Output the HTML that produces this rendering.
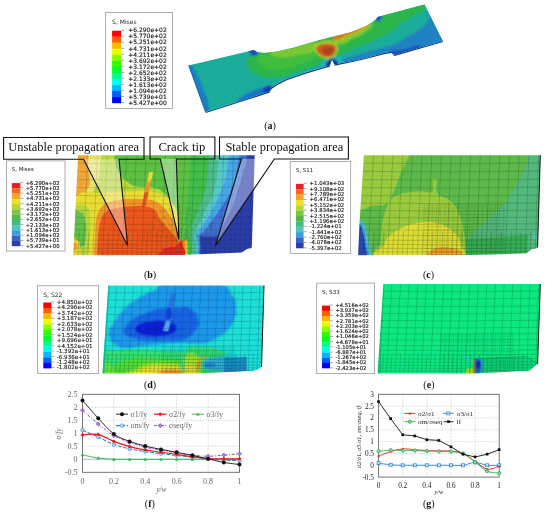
<!DOCTYPE html>
<html><head><meta charset="utf-8"><title>Figure</title>
<style>html,body{margin:0;padding:0;background:#fff}svg{display:block}</style></head><body>
<svg width="550" height="513" viewBox="0 0 550 513">
<rect width="550" height="513" fill="#fff"/>
<!-- panel a -->
<rect x="105.7" y="12.5" width="66.9" height="96.0" fill="#fff" stroke="#9a9a9a" stroke-width="0.8"/>
<text x="112.1" y="23.9" font-family="DejaVu Sans, Liberation Sans, sans-serif" font-size="6.00" fill="#222">S, Mises</text>
<rect x="112.1" y="30.70" width="9.0" height="6.13" fill="#ff0000"/>
<rect x="112.1" y="36.73" width="9.0" height="6.13" fill="#ff5d00"/>
<rect x="112.1" y="42.77" width="9.0" height="6.13" fill="#ffb900"/>
<rect x="112.1" y="48.80" width="9.0" height="6.13" fill="#e8ff00"/>
<rect x="112.1" y="54.83" width="9.0" height="6.13" fill="#8bff00"/>
<rect x="112.1" y="60.87" width="9.0" height="6.13" fill="#2eff00"/>
<rect x="112.1" y="66.90" width="9.0" height="6.13" fill="#00ff2e"/>
<rect x="112.1" y="72.93" width="9.0" height="6.13" fill="#00ff8b"/>
<rect x="112.1" y="78.97" width="9.0" height="6.13" fill="#00ffe8"/>
<rect x="112.1" y="85.00" width="9.0" height="6.13" fill="#00b9ff"/>
<rect x="112.1" y="91.03" width="9.0" height="6.13" fill="#005dff"/>
<rect x="112.1" y="97.07" width="9.0" height="6.13" fill="#0000ff"/>
<line x1="121.1" y1="30.30" x2="124.1" y2="30.30" stroke="#555" stroke-width="0.5"/>
<text x="128.2" y="32.46" font-family="DejaVu Sans, Liberation Sans, sans-serif" font-size="6.00" fill="#111" stroke="#111" stroke-width="0.12">+6.290e+02</text>
<line x1="121.1" y1="36.32" x2="124.1" y2="36.32" stroke="#555" stroke-width="0.5"/>
<text x="128.2" y="38.48" font-family="DejaVu Sans, Liberation Sans, sans-serif" font-size="6.00" fill="#111" stroke="#111" stroke-width="0.12">+5.770e+02</text>
<line x1="121.1" y1="42.33" x2="124.1" y2="42.33" stroke="#555" stroke-width="0.5"/>
<text x="128.2" y="44.49" font-family="DejaVu Sans, Liberation Sans, sans-serif" font-size="6.00" fill="#111" stroke="#111" stroke-width="0.12">+5.251e+02</text>
<line x1="121.1" y1="48.35" x2="124.1" y2="48.35" stroke="#555" stroke-width="0.5"/>
<text x="128.2" y="50.51" font-family="DejaVu Sans, Liberation Sans, sans-serif" font-size="6.00" fill="#111" stroke="#111" stroke-width="0.12">+4.731e+02</text>
<line x1="121.1" y1="54.37" x2="124.1" y2="54.37" stroke="#555" stroke-width="0.5"/>
<text x="128.2" y="56.53" font-family="DejaVu Sans, Liberation Sans, sans-serif" font-size="6.00" fill="#111" stroke="#111" stroke-width="0.12">+4.211e+02</text>
<line x1="121.1" y1="60.38" x2="124.1" y2="60.38" stroke="#555" stroke-width="0.5"/>
<text x="128.2" y="62.54" font-family="DejaVu Sans, Liberation Sans, sans-serif" font-size="6.00" fill="#111" stroke="#111" stroke-width="0.12">+3.692e+02</text>
<line x1="121.1" y1="66.40" x2="124.1" y2="66.40" stroke="#555" stroke-width="0.5"/>
<text x="128.2" y="68.56" font-family="DejaVu Sans, Liberation Sans, sans-serif" font-size="6.00" fill="#111" stroke="#111" stroke-width="0.12">+3.172e+02</text>
<line x1="121.1" y1="72.42" x2="124.1" y2="72.42" stroke="#555" stroke-width="0.5"/>
<text x="128.2" y="74.58" font-family="DejaVu Sans, Liberation Sans, sans-serif" font-size="6.00" fill="#111" stroke="#111" stroke-width="0.12">+2.652e+02</text>
<line x1="121.1" y1="78.43" x2="124.1" y2="78.43" stroke="#555" stroke-width="0.5"/>
<text x="128.2" y="80.59" font-family="DejaVu Sans, Liberation Sans, sans-serif" font-size="6.00" fill="#111" stroke="#111" stroke-width="0.12">+2.133e+02</text>
<line x1="121.1" y1="84.45" x2="124.1" y2="84.45" stroke="#555" stroke-width="0.5"/>
<text x="128.2" y="86.61" font-family="DejaVu Sans, Liberation Sans, sans-serif" font-size="6.00" fill="#111" stroke="#111" stroke-width="0.12">+1.613e+02</text>
<line x1="121.1" y1="90.47" x2="124.1" y2="90.47" stroke="#555" stroke-width="0.5"/>
<text x="128.2" y="92.63" font-family="DejaVu Sans, Liberation Sans, sans-serif" font-size="6.00" fill="#111" stroke="#111" stroke-width="0.12">+1.094e+02</text>
<line x1="121.1" y1="96.48" x2="124.1" y2="96.48" stroke="#555" stroke-width="0.5"/>
<text x="128.2" y="98.64" font-family="DejaVu Sans, Liberation Sans, sans-serif" font-size="6.00" fill="#111" stroke="#111" stroke-width="0.12">+5.739e+01</text>
<line x1="121.1" y1="102.50" x2="124.1" y2="102.50" stroke="#555" stroke-width="0.5"/>
<text x="128.2" y="104.66" font-family="DejaVu Sans, Liberation Sans, sans-serif" font-size="6.00" fill="#111" stroke="#111" stroke-width="0.12">+5.427e+00</text>
<defs><clipPath id="clipA"><polygon points="188.6,65.4 253.8,49.9 257.3,52.2 264.5,53.0 277.3,51.6 295.5,47.3 313.6,41.8 331.8,37.0 350.0,32.4 366.2,26.0 373.5,21.6 377.1,18.0 377.6,17.0 424.5,4.4 442.7,40.9 394.2,54.8 391.0,51.8 383.6,53.1 369.0,56.9 354.5,60.4 340.0,63.3 334.6,64.6 331.6,58.6 329.2,65.6 322.7,67.3 304.5,72.7 286.4,79.1 277.3,83.6 271.5,87.6 268.8,91.6 205.4,111.9"/></clipPath>
<filter id="blA" x="-20%" y="-20%" width="140%" height="140%"><feGaussianBlur stdDeviation="1.0"/></filter>
<pattern id="meshA" width="2.4" height="2.4" patternUnits="userSpaceOnUse" patternTransform="rotate(-15)"><path d="M0 0H2.4M0 0V2.4M0 2.4L2.4 0" stroke="#003040" stroke-width="0.35" fill="none"/></pattern>
</defs>
<polygon points="442.7,40.9 443.1,42.1 394.6,56.0 391.4,53.0 384.0,54.3 369.4,58.1 354.9,61.6 340.4,64.5 335.0,65.8 332.0,59.8 329.6,66.8 323.1,68.5 304.9,73.9 286.8,80.3 277.7,84.8 271.9,88.8 269.2,92.8 205.8,113.1 205.4,111.9 205.4,111.9 268.8,91.6 271.5,87.6 277.3,83.6 286.4,79.1 304.5,72.7 322.7,67.3 329.2,65.6 331.6,58.6 334.6,64.6 340.0,63.3 354.5,60.4 369.0,56.9 383.6,53.1 391.0,51.8 394.2,54.8 442.7,40.9" fill="#16368c"/>
<g clip-path="url(#clipA)">
<rect x="180" y="0" width="270" height="120" fill="#1cb6a2"/>
<g filter="url(#blA)">
<path d="M247.0 62.0 C247.8 58.5 249.1 57.7 252.0 54.0 C254.9 50.3 245.2 51.7 258.0 48.0 C270.8 44.3 275.5 45.9 300.0 40.0 C324.5 34.1 328.7 33.5 350.0 26.0 C371.3 18.5 366.7 17.6 380.0 12.0 C393.3 6.4 387.2 8.7 400.0 5.0 C412.8 1.3 421.1 -2.4 428.0 -2.0 C434.9 -1.6 427.9 2.9 426.0 6.5 C424.1 10.1 425.0 8.7 420.9 11.6 C416.8 14.5 416.1 14.4 410.7 17.5 C405.3 20.6 404.8 20.2 400.5 23.3 C396.2 26.4 399.7 25.6 394.7 29.1 C389.7 32.6 388.2 33.0 381.6 36.4 C375.0 39.8 377.2 38.8 370.0 42.0 C362.8 45.2 362.5 45.2 354.5 48.5 C346.5 51.8 344.9 52.0 340.0 54.5 C335.1 57.0 339.5 56.5 336.0 58.0 C332.5 59.5 331.8 58.3 327.0 60.0 C322.2 61.7 323.9 62.1 318.0 64.5 C312.1 66.9 311.1 66.9 305.0 69.0 C298.9 71.1 300.3 70.6 295.0 72.5 C289.7 74.4 291.9 74.7 285.0 76.0 C278.1 77.3 277.0 78.3 269.0 77.5 C261.0 76.7 260.3 75.8 255.0 73.0 C249.7 70.2 251.1 69.9 249.0 67.0 C246.9 64.1 246.2 65.5 247.0 62.0Z" fill="#2fc04c" />
<path d="M258.0 56.0 C260.7 52.5 262.1 54.9 272.0 53.0 C281.9 51.1 283.5 51.4 295.0 49.0 C306.5 46.6 308.9 43.2 315.0 44.0 C321.1 44.8 318.8 47.7 318.0 52.0 C317.2 56.3 317.9 56.3 312.0 60.0 C306.1 63.7 305.6 63.3 296.0 66.0 C286.4 68.7 285.1 70.0 276.0 70.0 C266.9 70.0 266.8 69.7 262.0 66.0 C257.2 62.3 255.3 59.5 258.0 56.0Z" fill="#44c83c" />
<path d="M272.0 52.0 C276.0 49.3 283.8 49.8 295.0 47.0 C306.2 44.2 307.9 41.8 314.0 41.5 C320.1 41.2 318.5 43.2 318.0 46.0 C317.5 48.8 317.3 49.6 312.0 52.0 C306.7 54.4 306.5 53.7 298.0 55.0 C289.5 56.3 286.9 57.8 280.0 57.0 C273.1 56.2 268.0 54.7 272.0 52.0Z" fill="#84d430" />
<path d="M334.0 42.0 C332.9 39.7 333.7 38.2 338.0 35.5 C342.3 32.8 343.6 34.1 350.0 32.0 C356.4 29.9 356.7 29.8 362.0 27.5 C367.3 25.2 367.3 23.9 370.0 23.5 C372.7 23.1 373.6 23.5 372.0 26.0 C370.4 28.5 369.3 29.5 364.0 33.0 C358.7 36.5 357.9 36.1 352.0 39.0 C346.1 41.9 346.8 43.2 342.0 44.0 C337.2 44.8 335.1 44.3 334.0 42.0Z" fill="#8ed22c" />
<path d="M334.0 37.5 C336.7 35.4 338.6 35.4 345.0 33.0 C351.4 30.6 352.4 30.6 358.0 28.5 C363.6 26.4 364.4 24.9 366.0 25.0 C367.6 25.1 367.7 26.5 364.0 29.0 C360.3 31.5 358.4 31.8 352.0 34.5 C345.6 37.2 344.5 37.3 340.0 39.0 C335.5 40.7 336.6 41.4 335.0 41.0 C333.4 40.6 331.3 39.6 334.0 37.5Z" fill="#ded020" />
<path d="M334.0 37.2 C336.7 35.1 339.1 34.9 346.0 32.0 C352.9 29.1 354.1 28.9 360.0 26.4 C365.9 23.9 366.4 22.6 368.0 22.5 C369.6 22.4 368.7 23.9 366.0 26.0 C363.3 28.1 363.1 28.0 358.0 30.5 C352.9 33.0 352.9 32.7 347.0 35.2 C341.1 37.7 339.5 39.5 336.0 40.0 C332.5 40.5 331.3 39.3 334.0 37.2Z" fill="#f07418" />
<path d="M336.0 61.0 C336.0 58.8 335.1 60.9 340.0 59.6 C344.9 58.3 346.8 58.1 354.5 56.0 C362.2 53.9 361.0 53.9 369.0 51.6 C377.0 49.3 376.5 50.0 384.5 47.5 C392.5 45.0 392.8 45.2 399.0 42.2 C405.2 39.2 402.7 39.5 407.8 36.4 C412.9 33.3 413.0 34.0 418.0 30.5 C423.0 27.0 423.6 27.2 426.7 23.3 C429.8 19.4 429.4 19.7 429.6 16.0 C429.8 12.3 427.4 12.7 427.5 9.5 C427.6 6.3 424.0 -4.1 430.0 4.0 C436.0 12.1 452.7 27.2 450.0 40.0 C447.3 52.8 434.9 46.1 420.0 52.0 C405.1 57.9 415.3 57.7 394.0 62.0 C372.7 66.3 355.5 68.3 340.0 68.0 C324.5 67.7 336.0 63.2 336.0 61.0Z" fill="#2088cc" />
<path d="M391.0 51.5 C393.7 49.3 392.3 51.5 398.0 50.5 C403.7 49.5 400.7 50.0 408.0 48.5 C415.3 47.0 415.7 44.8 420.0 46.0 C424.3 47.2 427.7 48.0 421.0 52.0 C414.3 56.0 410.3 56.3 400.0 58.0 C389.7 59.7 393.0 59.2 390.0 57.0 C387.0 54.8 388.3 53.7 391.0 51.5Z" fill="#1c50c8" />
<path d="M375.0 15.0 C376.3 12.8 379.0 13.2 381.0 14.5 C383.0 15.8 382.3 16.8 381.0 19.0 C379.7 21.2 379.0 22.3 377.0 21.0 C375.0 19.7 373.7 17.2 375.0 15.0Z" fill="#1c50c8" />
<path d="M187.0 63.0 C188.3 60.3 188.2 61.0 192.0 66.0 C195.8 71.0 194.3 69.3 198.5 78.0 C202.7 86.7 201.2 83.3 204.5 92.0 C207.8 100.7 207.3 97.3 208.5 104.0 C209.7 110.7 209.8 108.7 208.0 112.0 C206.2 115.3 207.0 119.3 203.0 114.0 C199.0 108.7 201.0 109.3 196.0 96.0 C191.0 82.7 191.0 85.0 188.0 74.0 C185.0 63.0 185.7 65.7 187.0 63.0Z" fill="#1c84d2" />
<path d="M236.0 103.5 C237.3 100.5 236.7 101.0 242.0 97.0 C247.3 93.0 245.3 94.5 252.0 91.5 C258.7 88.5 256.0 89.7 262.0 88.0 C268.0 86.3 266.3 85.8 270.0 86.5 C273.7 87.2 273.7 87.2 273.0 90.0 C272.3 92.8 275.7 91.3 268.0 95.0 C260.3 98.7 260.0 97.3 250.0 101.0 C240.0 104.7 242.7 105.2 238.0 106.0 C233.3 106.8 234.7 106.5 236.0 103.5Z" fill="#1c78d0" />
<path d="M263.0 89.5 C263.7 87.3 265.0 87.3 268.0 86.5 C271.0 85.7 271.0 85.2 272.0 87.0 C273.0 88.8 273.0 90.0 271.0 92.0 C269.0 94.0 268.7 93.8 266.0 93.0 C263.3 92.2 262.3 91.7 263.0 89.5Z" fill="#1838c0" />
<path d="M250.0 49.0 C252.0 47.3 253.3 46.7 256.0 48.0 C258.7 49.3 258.7 50.3 258.0 53.0 C257.3 55.7 256.7 56.0 254.0 56.0 C251.3 56.0 251.3 55.3 250.0 53.0 C248.7 50.7 248.0 50.7 250.0 49.0Z" fill="#1c50c8" />
<path d="M322.0 64.0 C322.7 61.0 323.3 61.7 326.0 59.0 C328.7 56.3 327.3 57.0 330.0 56.0 C332.7 55.0 331.0 55.3 334.0 56.0 C337.0 56.7 336.0 56.0 339.0 58.0 C342.0 60.0 343.3 59.3 343.0 62.0 C342.7 64.7 342.3 64.0 338.0 66.0 C333.7 68.0 334.7 67.3 330.0 68.0 C325.3 68.7 326.7 69.3 324.0 68.0 C321.3 66.7 321.3 67.0 322.0 64.0Z" fill="#20c0c0" />
<path d="M325.5 66.0 C325.3 63.3 326.5 62.8 328.5 60.0 C330.5 57.2 329.3 57.7 331.5 57.5 C333.7 57.3 332.7 57.3 335.0 59.5 C337.3 61.7 338.8 61.5 338.5 64.0 C338.2 66.5 337.2 65.7 334.0 67.0 C330.8 68.3 331.8 68.3 329.0 68.0 C326.2 67.7 325.7 68.7 325.5 66.0Z" fill="#1840c8" />
<path d="M327.0 66.0 C326.5 64.5 328.2 63.5 329.5 61.5 C330.8 59.5 330.5 58.5 331.0 60.0 C331.5 61.5 332.3 64.0 331.0 66.0 C329.7 68.0 327.5 67.5 327.0 66.0Z" fill="#1020a0" />
<path d="M333.0 60.5 C333.8 59.7 336.2 61.7 336.5 63.5 C336.8 65.3 335.2 67.0 334.0 66.0 C332.8 65.0 332.2 61.3 333.0 60.5Z" fill="#1020a0" />
<path d="M314.5 46.5 C315.3 42.7 315.8 44.4 320.0 42.5 C324.2 40.6 322.3 41.0 327.0 40.8 C331.7 40.6 330.5 40.3 334.0 42.0 C337.5 43.7 336.7 42.3 337.5 46.0 C338.3 49.7 338.7 48.8 336.5 53.0 C334.3 57.2 335.2 56.8 331.0 58.5 C326.8 60.2 328.5 59.5 324.0 58.0 C319.5 56.5 320.7 57.8 317.5 54.0 C314.3 50.2 313.7 50.3 314.5 46.5Z" fill="#b4d82c" />
<path d="M316.6 47.2 C317.9 45.1 322.3 44.0 326.0 43.8 C329.7 43.6 333.6 44.3 335.3 46.2 C337.0 48.1 336.0 51.3 334.6 53.5 C333.2 55.7 331.5 57.0 328.5 57.2 C325.5 57.4 322.1 56.3 319.7 54.3 C317.3 52.3 315.3 49.3 316.6 47.2Z" fill="#dc5a1c" />
<path d="M323.0 49.0 C324.7 47.0 326.7 47.0 330.0 47.5 C333.3 48.0 333.0 48.2 333.0 50.5 C333.0 52.8 332.7 53.5 330.0 54.5 C327.3 55.5 327.3 55.3 325.0 53.5 C322.7 51.7 321.3 51.0 323.0 49.0Z" fill="#b8441c" />
</g>
<rect x="180" y="0" width="270" height="120" fill="url(#meshA)" opacity="0.28"/>
</g>
<polyline points="188.6,65.4 205.4,111.9" fill="none" stroke="#0a2a50" stroke-width="0.6" opacity="0.7"/>
<text x="270.1" y="129.1" font-family="Liberation Serif, serif" font-size="10" text-anchor="middle" fill="#111">(<tspan font-weight="bold">a</tspan>)</text>
<!-- panel b -->
<rect x="6.4" y="160.9" width="58.6" height="90.1" fill="#fff" stroke="#9a9a9a" stroke-width="0.8"/>
<text x="11.8" y="171.1" font-family="DejaVu Sans, Liberation Sans, sans-serif" font-size="5.40" fill="#222">S, Mises</text>
<rect x="11.8" y="183.10" width="8.6" height="5.35" fill="#e8202a"/>
<rect x="11.8" y="188.35" width="8.6" height="5.35" fill="#f06a22"/>
<rect x="11.8" y="193.60" width="8.6" height="5.35" fill="#f4a62a"/>
<rect x="11.8" y="198.85" width="8.6" height="5.35" fill="#eadf2e"/>
<rect x="11.8" y="204.10" width="8.6" height="5.35" fill="#b9d636"/>
<rect x="11.8" y="209.35" width="8.6" height="5.35" fill="#7cc540"/>
<rect x="11.8" y="214.60" width="8.6" height="5.35" fill="#4fb848"/>
<rect x="11.8" y="219.85" width="8.6" height="5.35" fill="#45b97c"/>
<rect x="11.8" y="225.10" width="8.6" height="5.35" fill="#52c4c4"/>
<rect x="11.8" y="230.35" width="8.6" height="5.35" fill="#3a9fe0"/>
<rect x="11.8" y="235.60" width="8.6" height="5.35" fill="#3a63c8"/>
<rect x="11.8" y="240.85" width="8.6" height="5.35" fill="#2a3fa8"/>
<line x1="20.4" y1="182.60" x2="23.4" y2="182.60" stroke="#555" stroke-width="0.5"/>
<text x="25.7" y="184.50" font-family="DejaVu Sans, Liberation Sans, sans-serif" font-size="5.28" fill="#111" stroke="#111" stroke-width="0.12">+6.290e+02</text>
<line x1="20.4" y1="187.86" x2="23.4" y2="187.86" stroke="#555" stroke-width="0.5"/>
<text x="25.7" y="189.76" font-family="DejaVu Sans, Liberation Sans, sans-serif" font-size="5.28" fill="#111" stroke="#111" stroke-width="0.12">+5.770e+02</text>
<line x1="20.4" y1="193.12" x2="23.4" y2="193.12" stroke="#555" stroke-width="0.5"/>
<text x="25.7" y="195.02" font-family="DejaVu Sans, Liberation Sans, sans-serif" font-size="5.28" fill="#111" stroke="#111" stroke-width="0.12">+5.251e+02</text>
<line x1="20.4" y1="198.38" x2="23.4" y2="198.38" stroke="#555" stroke-width="0.5"/>
<text x="25.7" y="200.28" font-family="DejaVu Sans, Liberation Sans, sans-serif" font-size="5.28" fill="#111" stroke="#111" stroke-width="0.12">+4.731e+02</text>
<line x1="20.4" y1="203.63" x2="23.4" y2="203.63" stroke="#555" stroke-width="0.5"/>
<text x="25.7" y="205.53" font-family="DejaVu Sans, Liberation Sans, sans-serif" font-size="5.28" fill="#111" stroke="#111" stroke-width="0.12">+4.211e+02</text>
<line x1="20.4" y1="208.89" x2="23.4" y2="208.89" stroke="#555" stroke-width="0.5"/>
<text x="25.7" y="210.79" font-family="DejaVu Sans, Liberation Sans, sans-serif" font-size="5.28" fill="#111" stroke="#111" stroke-width="0.12">+3.692e+02</text>
<line x1="20.4" y1="214.15" x2="23.4" y2="214.15" stroke="#555" stroke-width="0.5"/>
<text x="25.7" y="216.05" font-family="DejaVu Sans, Liberation Sans, sans-serif" font-size="5.28" fill="#111" stroke="#111" stroke-width="0.12">+3.172e+02</text>
<line x1="20.4" y1="219.41" x2="23.4" y2="219.41" stroke="#555" stroke-width="0.5"/>
<text x="25.7" y="221.31" font-family="DejaVu Sans, Liberation Sans, sans-serif" font-size="5.28" fill="#111" stroke="#111" stroke-width="0.12">+2.652e+02</text>
<line x1="20.4" y1="224.67" x2="23.4" y2="224.67" stroke="#555" stroke-width="0.5"/>
<text x="25.7" y="226.57" font-family="DejaVu Sans, Liberation Sans, sans-serif" font-size="5.28" fill="#111" stroke="#111" stroke-width="0.12">+2.133e+02</text>
<line x1="20.4" y1="229.92" x2="23.4" y2="229.92" stroke="#555" stroke-width="0.5"/>
<text x="25.7" y="231.83" font-family="DejaVu Sans, Liberation Sans, sans-serif" font-size="5.28" fill="#111" stroke="#111" stroke-width="0.12">+1.613e+02</text>
<line x1="20.4" y1="235.18" x2="23.4" y2="235.18" stroke="#555" stroke-width="0.5"/>
<text x="25.7" y="237.08" font-family="DejaVu Sans, Liberation Sans, sans-serif" font-size="5.28" fill="#111" stroke="#111" stroke-width="0.12">+1.094e+02</text>
<line x1="20.4" y1="240.44" x2="23.4" y2="240.44" stroke="#555" stroke-width="0.5"/>
<text x="25.7" y="242.34" font-family="DejaVu Sans, Liberation Sans, sans-serif" font-size="5.28" fill="#111" stroke="#111" stroke-width="0.12">+5.739e+01</text>
<line x1="20.4" y1="245.70" x2="23.4" y2="245.70" stroke="#555" stroke-width="0.5"/>
<text x="25.7" y="247.60" font-family="DejaVu Sans, Liberation Sans, sans-serif" font-size="5.28" fill="#111" stroke="#111" stroke-width="0.12">+5.427e+00</text>
<defs><clipPath id="clipB"><polygon points="78.1,155.2 254.7,155.2 251.8,247.4 250.6,248.2 247.5,248.7 241.6,252.5 236.0,252.8 180.7,254.9 73.2,255.2"/></clipPath>
<filter id="blB" x="-10%" y="-10%" width="120%" height="120%"><feGaussianBlur stdDeviation="0.7"/></filter></defs>
<rect x="3.6" y="137.5" width="140.4" height="21.8" fill="#fff"/>
<rect x="150.0" y="137.0" width="64.9" height="22.0" fill="#fff"/>
<rect x="219.5" y="137.0" width="128.9" height="22.0" fill="#fff"/>
<g clip-path="url(#clipB)"><g filter="url(#blB)">
<rect x="60" y="145" width="210" height="120" fill="#5cc042"/>
<polygon points="191.0,155.0 189.0,180.0 188.0,195.0 186.0,214.0 185.0,227.0 184.5,236.0 184.0,247.0 184.0,256.0 262.0,256.0 262.0,155.0" fill="#42bc4c" />
<polygon points="209.0,155.0 207.5,180.0 204.0,195.0 196.5,214.0 191.0,227.0 189.5,236.0 192.0,247.0 191.5,256.0 262.0,256.0 262.0,155.0" fill="#4cbc8a" />
<polygon points="219.0,155.0 216.5,180.0 213.0,195.0 204.0,214.0 197.0,227.0 193.5,236.0 195.5,247.0 194.5,256.0 262.0,256.0 262.0,155.0" fill="#56c8cc" />
<polygon points="229.0,155.0 225.5,180.0 219.5,195.0 210.0,214.0 202.0,227.0 196.5,236.0 198.0,247.0 197.0,256.0 262.0,256.0 262.0,155.0" fill="#44a6e8" />
<polygon points="239.5,155.0 235.0,180.0 229.0,195.0 217.0,214.0 207.5,227.0 198.8,236.0 199.5,247.0 198.5,256.0 262.0,256.0 262.0,155.0" fill="#4070d2" />
<polygon points="247.0,155.0 245.5,165.0 241.0,180.0 236.5,195.0 231.0,210.0 225.0,222.0 220.0,231.0 217.0,236.4 200.0,236.6 200.8,247.0 200.3,256.0 262.0,256.0 262.0,155.0" fill="#2a3cac" />
<polygon points="84.0,150.0 112.9,150.0 116.1,167.2 122.5,177.9 132.2,185.4 141.8,187.5 149.8,186.4 160.0,189.7 169.7,198.2 176.0,210.0 179.0,232.0 179.3,241.5 180.0,260.0 60.0,260.0 60.0,150.0" fill="#b6d63a" />
<path d="M86.0 150.0 C89.7 134.7 94.3 145.0 99.0 150.0 C103.7 155.0 100.3 155.0 100.0 165.0 C99.7 175.0 100.3 171.0 98.0 180.0 C95.7 189.0 96.3 186.7 93.0 192.0 C89.7 197.3 90.3 210.0 88.0 196.0 C85.7 182.0 82.3 165.3 86.0 150.0Z" fill="#e6e066" />
<path d="M70.0 212.5 C73.0 200.5 74.2 210.2 79.0 212.0 C83.8 213.8 82.3 209.3 84.5 218.0 C86.7 226.7 86.7 228.3 85.5 238.0 C84.3 247.7 86.2 243.7 81.0 247.0 C75.8 250.3 73.7 259.5 70.0 248.0 C66.3 236.5 67.0 224.5 70.0 212.5Z" fill="#62bf48" />
<path d="M70.0 193.0 C72.8 190.6 80.0 192.6 84.0 192.5 C88.0 192.4 86.4 192.4 90.0 192.5 C93.6 192.6 95.5 193.1 102.2 193.0 C108.9 192.9 115.5 192.3 123.6 191.8 C131.7 191.3 137.8 190.8 142.9 190.7 C148.0 190.6 145.5 190.5 148.9 191.2 C152.3 191.9 155.6 191.9 160.0 194.0 C164.4 196.1 167.4 197.9 170.8 201.5 C174.2 205.1 175.5 205.7 177.2 212.2 C178.9 218.7 178.8 228.1 179.2 234.0 C179.6 239.9 179.1 236.3 179.3 241.5 C179.5 246.7 179.9 254.3 180.0 260.0 C180.1 265.7 198.5 268.0 180.0 270.0 C161.5 272.0 106.0 272.0 87.5 270.0 C69.0 268.0 87.0 266.8 87.5 260.0 C88.0 253.2 89.4 243.4 90.0 235.8 C90.6 228.2 90.7 227.2 90.5 222.0 C90.3 216.8 90.3 213.4 89.0 210.0 C87.7 206.6 87.8 206.1 84.0 205.0 C80.2 203.9 72.8 206.9 70.0 204.5 C67.2 202.1 67.2 195.4 70.0 193.0Z" fill="#e8dc30" />
<path d="M68.0 240.0 C71.0 234.0 73.0 237.3 77.0 240.0 C81.0 242.7 79.3 242.0 80.0 248.0 C80.7 254.0 83.0 254.7 79.0 258.0 C75.0 261.3 71.7 264.0 68.0 258.0 C64.3 252.0 65.0 246.0 68.0 240.0Z" fill="#e6d434" />
<path d="M70.0 243.0 C71.8 240.7 73.3 241.0 75.5 243.0 C77.7 245.0 78.3 246.7 76.5 249.0 C74.7 251.3 72.2 252.0 70.0 250.0 C67.8 248.0 68.2 245.3 70.0 243.0Z" fill="#f0a030" />
<path d="M70.0 150.0 C73.2 141.3 82.5 146.6 86.1 150.0 C89.7 153.4 87.5 161.2 88.2 167.2 C88.9 173.2 89.8 175.8 89.8 180.0 C89.8 184.2 89.6 185.5 88.0 188.0 C86.4 190.5 85.6 191.4 82.0 192.5 C78.4 193.6 72.4 202.0 70.0 193.5 C67.6 185.0 66.8 158.7 70.0 150.0Z" fill="#f0a636" />
<path d="M93.6 270.0 C76.3 268.0 93.3 266.8 93.6 260.0 C93.9 253.2 94.5 243.6 95.0 235.8 C95.5 228.0 95.2 225.8 96.0 220.8 C96.8 215.8 96.9 214.6 99.0 211.0 C101.1 207.4 101.5 205.3 106.4 203.0 C111.3 200.7 116.7 200.1 123.6 199.3 C130.5 198.5 135.6 198.8 140.8 198.9 C146.0 199.0 146.8 199.2 149.8 199.7 C152.8 200.2 152.9 199.9 155.8 201.5 C158.7 203.1 161.3 204.9 164.3 207.9 C167.3 210.9 168.2 212.6 170.8 216.5 C173.4 220.4 175.5 223.3 177.2 227.2 C178.9 231.1 178.8 233.1 179.2 236.0 C179.6 238.9 179.1 236.7 179.3 241.5 C179.5 246.3 179.9 254.3 180.0 260.0 C180.1 265.7 197.3 268.0 180.0 270.0 C162.7 272.0 110.9 272.0 93.6 270.0Z" fill="#f2962a" />
<path d="M97.3 270.0 C80.0 268.0 97.0 266.8 97.3 260.0 C97.6 253.2 97.9 243.6 98.6 235.8 C99.3 228.0 99.3 225.5 100.6 220.8 C101.9 216.1 102.0 215.0 105.3 212.4 C108.6 209.8 111.4 209.1 117.2 207.9 C123.0 206.7 128.1 206.4 134.3 206.2 C140.5 206.0 144.0 206.0 148.3 207.0 C152.6 208.0 153.6 208.8 155.8 211.1 C158.0 213.4 157.8 216.0 159.5 218.6 C161.2 221.2 162.0 221.4 164.3 224.0 C166.6 226.6 168.2 228.5 170.8 231.5 C173.4 234.5 175.5 237.0 177.2 239.0 C178.9 241.0 178.0 241.1 179.3 241.5 C180.6 241.9 182.6 239.3 183.5 241.0 C184.4 242.7 183.6 246.2 183.6 250.0 C183.6 253.8 183.7 256.0 183.7 260.0 C183.7 264.0 201.0 268.0 183.7 270.0 C166.4 272.0 114.6 272.0 97.3 270.0Z" fill="#ec541e" />
<polygon points="149.2,171.8 153.2,171.8 150.8,183.0 146.8,183.0" fill="#e8dc30" />
<polygon points="147.1,181.6 151.1,181.6 148.3,194.0 144.3,194.0" fill="#f2962a" />
<polygon points="144.7,192.3 148.7,192.3 145.2,208.5 141.2,208.5" fill="#ec541e" />
<polygon points="183.5,239.5 185.2,240.0 185.4,260.0 183.5,260.0" fill="#f2962a" />
<polygon points="185.2,240.0 187.2,239.0 187.6,260.0 185.4,260.0" fill="#e8dc30" />
<path d="M160.0 258.0 C153.5 255.5 159.8 254.0 162.5 250.5 C165.2 247.0 163.8 248.8 168.0 247.5 C172.2 246.2 171.3 248.0 175.0 246.5 C178.7 245.0 176.8 244.3 179.0 243.0 C181.2 241.7 180.5 237.5 181.5 242.5 C182.5 247.5 189.2 252.8 182.0 258.0 C174.8 263.2 166.5 260.5 160.0 258.0Z" fill="#de2a24" />
</g>
<path d="M77.7 163.3 Q166.1 164.5 254.4 162.8 M77.3 171.4 Q165.7 172.6 254.2 170.9 M76.9 179.6 Q165.4 180.8 253.9 179.1 M76.5 187.5 Q165.1 188.7 253.6 187.0 M76.1 195.5 Q164.7 196.7 253.3 195.0 M75.7 203.2 Q164.4 204.4 253.1 202.7 M75.4 210.5 Q164.1 211.7 252.8 210.0 M75.0 217.5 Q163.8 218.7 252.6 217.0 M74.7 224.0 Q163.5 225.2 252.4 223.5 M74.4 229.8 Q163.3 231.0 252.2 229.3 M74.2 235.1 Q163.1 236.3 252.0 234.6 M73.9 240.1 Q162.9 241.3 251.8 239.6 M73.7 244.3 Q162.7 245.5 251.7 243.8 M73.5 248.2 Q162.5 249.4 251.5 247.7 M73.4 251.8 Q162.4 253.0 251.4 251.3 M87.8 155.4 L83.0 255.0 M97.5 155.4 L92.8 255.0 M107.2 155.4 L102.6 255.0 M116.9 155.4 L112.3 255.0 M126.6 155.4 L122.1 255.0 M136.3 155.4 L131.9 255.0 M146.0 155.4 L141.7 255.0 M155.7 155.4 L151.5 255.0 M165.4 155.4 L161.3 255.0 M175.1 155.4 L171.1 255.0 M184.8 155.4 L180.8 255.0 M194.5 155.4 L190.6 255.0 M204.2 155.4 L200.4 255.0 M213.9 155.4 L210.2 255.0 M223.6 155.4 L220.0 255.0 M233.4 155.4 L229.8 255.0 M243.1 155.4 L239.6 255.0 M252.8 155.4 L249.3 255.0 M79.3 231.0 L78.1 255.0 M89.0 231.0 L87.9 255.0 M98.8 231.0 L97.7 255.0 M108.6 231.0 L107.5 255.0 M118.3 231.0 L117.2 255.0 M128.1 231.0 L127.0 255.0 M137.9 231.0 L136.8 255.0 M147.6 231.0 L146.6 255.0 M157.4 231.0 L156.4 255.0 M167.2 231.0 L166.2 255.0 M176.9 231.0 L176.0 255.0 M186.7 231.0 L185.7 255.0 M196.5 231.0 L195.5 255.0 M206.2 231.0 L205.3 255.0 M216.0 231.0 L215.1 255.0 M225.8 231.0 L224.9 255.0 M235.5 231.0 L234.7 255.0 M245.3 231.0 L244.5 255.0" fill="none" stroke="#1a2a10" stroke-width="0.95" opacity="0.18"/>
<path d="M182.3 241.5 L219.3 241.5 M182.2 240.7 L217.9 231.7 M181.9 240.0 L213.9 222.5 M181.4 239.4 L207.6 214.6 M180.8 238.9 L199.3 208.6 M180.1 238.6 L189.7 204.8 M179.3 238.5 L179.3 203.5 M178.5 238.6 L168.9 204.8 M177.8 238.9 L159.3 208.6 M177.2 239.4 L151.0 214.6 M176.7 240.0 L144.7 222.5 M176.4 240.7 L140.7 231.7 M176.3 241.5 L139.3 241.5 M173.3 241.5 A6.0 5.7 0 0 1 185.3 241.5 M169.3 241.5 A10.0 9.5 0 0 1 189.3 241.5 M165.3 241.5 A14.0 13.3 0 0 1 193.3 241.5 M160.3 241.5 A19.0 18.1 0 0 1 198.3 241.5 M155.3 241.5 A24.0 22.8 0 0 1 203.3 241.5 M149.3 241.5 A30.0 28.5 0 0 1 209.3 241.5 M143.3 241.5 A36.0 34.2 0 0 1 215.3 241.5" fill="none" stroke="#1a2a10" stroke-width="0.4" opacity="0.2"/>
</g>
<polygon points="83.6,159.3 127.6,245.4 119.0,159.3" fill="#fff" fill-opacity="0.36"/>
<polygon points="160.3,159.0 178.9,239.6 176.3,159.0" fill="#fff" fill-opacity="0.36"/>
<polygon points="241.5,159.0 215.4,245.9 274.3,159.0" fill="#fff" fill-opacity="0.36"/>
<path d="M3.6 137.5 L144.0 137.5 L144.0 159.3 L119.0 159.3 L127.6 245.4 L83.6 159.3 L3.6 159.3 L3.6 137.5 Z" fill="none" stroke="#111" stroke-width="1.1" stroke-linejoin="miter"/>
<path d="M150.0 137.0 L214.9 137.0 L214.9 159.0 L176.3 159.0 L178.9 239.6 L160.3 159.0 L150.0 159.0 L150.0 137.0 Z" fill="none" stroke="#111" stroke-width="1.1" stroke-linejoin="miter"/>
<path d="M219.5 137.0 L348.4 137.0 L348.4 159.0 L274.3 159.0 L215.4 245.9 L241.5 159.0 L219.5 159.0 L219.5 137.0 Z" fill="none" stroke="#111" stroke-width="1.1" stroke-linejoin="miter"/>
<text x="8.2" y="151.3" font-family="Liberation Serif, serif" font-size="12.4" fill="#111" textLength="130.8" lengthAdjust="spacingAndGlyphs">Unstable propagation area</text>
<text x="158.4" y="151.0" font-family="Liberation Serif, serif" font-size="12.4" fill="#111" textLength="46.9" lengthAdjust="spacingAndGlyphs">Crack tip</text>
<text x="225.4" y="151.0" font-family="Liberation Serif, serif" font-size="12.4" fill="#111" textLength="118" lengthAdjust="spacingAndGlyphs">Stable propagation area</text>
<text x="150.0" y="277.9" font-family="Liberation Serif, serif" font-size="10" text-anchor="middle" fill="#111">(<tspan font-weight="bold">b</tspan>)</text>
<!-- panel c -->
<rect x="290.3" y="161.4" width="60.4" height="92.2" fill="#fff" stroke="#9a9a9a" stroke-width="0.8"/>
<text x="296.0" y="171.7" font-family="DejaVu Sans, Liberation Sans, sans-serif" font-size="5.40" fill="#222">S, S11</text>
<rect x="296.0" y="183.90" width="7.6" height="5.46" fill="#e8202a"/>
<rect x="296.0" y="189.26" width="7.6" height="5.46" fill="#f06a22"/>
<rect x="296.0" y="194.62" width="7.6" height="5.46" fill="#f4a62a"/>
<rect x="296.0" y="199.97" width="7.6" height="5.46" fill="#eadf2e"/>
<rect x="296.0" y="205.33" width="7.6" height="5.46" fill="#b9d636"/>
<rect x="296.0" y="210.69" width="7.6" height="5.46" fill="#7cc540"/>
<rect x="296.0" y="216.05" width="7.6" height="5.46" fill="#4fb848"/>
<rect x="296.0" y="221.41" width="7.6" height="5.46" fill="#45b97c"/>
<rect x="296.0" y="226.77" width="7.6" height="5.46" fill="#52c4c4"/>
<rect x="296.0" y="232.12" width="7.6" height="5.46" fill="#3a9fe0"/>
<rect x="296.0" y="237.48" width="7.6" height="5.46" fill="#3a63c8"/>
<rect x="296.0" y="242.84" width="7.6" height="5.46" fill="#2a3fa8"/>
<line x1="303.6" y1="183.40" x2="306.6" y2="183.40" stroke="#555" stroke-width="0.5"/>
<text x="309.6" y="185.34" font-family="DejaVu Sans, Liberation Sans, sans-serif" font-size="5.40" fill="#111" stroke="#111" stroke-width="0.12">+1.043e+03</text>
<line x1="303.6" y1="188.77" x2="306.6" y2="188.77" stroke="#555" stroke-width="0.5"/>
<text x="309.6" y="190.71" font-family="DejaVu Sans, Liberation Sans, sans-serif" font-size="5.40" fill="#111" stroke="#111" stroke-width="0.12">+9.108e+02</text>
<line x1="303.6" y1="194.13" x2="306.6" y2="194.13" stroke="#555" stroke-width="0.5"/>
<text x="309.6" y="196.08" font-family="DejaVu Sans, Liberation Sans, sans-serif" font-size="5.40" fill="#111" stroke="#111" stroke-width="0.12">+7.789e+02</text>
<line x1="303.6" y1="199.50" x2="306.6" y2="199.50" stroke="#555" stroke-width="0.5"/>
<text x="309.6" y="201.44" font-family="DejaVu Sans, Liberation Sans, sans-serif" font-size="5.40" fill="#111" stroke="#111" stroke-width="0.12">+6.471e+02</text>
<line x1="303.6" y1="204.87" x2="306.6" y2="204.87" stroke="#555" stroke-width="0.5"/>
<text x="309.6" y="206.81" font-family="DejaVu Sans, Liberation Sans, sans-serif" font-size="5.40" fill="#111" stroke="#111" stroke-width="0.12">+5.152e+02</text>
<line x1="303.6" y1="210.23" x2="306.6" y2="210.23" stroke="#555" stroke-width="0.5"/>
<text x="309.6" y="212.18" font-family="DejaVu Sans, Liberation Sans, sans-serif" font-size="5.40" fill="#111" stroke="#111" stroke-width="0.12">+3.834e+02</text>
<line x1="303.6" y1="215.60" x2="306.6" y2="215.60" stroke="#555" stroke-width="0.5"/>
<text x="309.6" y="217.54" font-family="DejaVu Sans, Liberation Sans, sans-serif" font-size="5.40" fill="#111" stroke="#111" stroke-width="0.12">+2.515e+02</text>
<line x1="303.6" y1="220.97" x2="306.6" y2="220.97" stroke="#555" stroke-width="0.5"/>
<text x="309.6" y="222.91" font-family="DejaVu Sans, Liberation Sans, sans-serif" font-size="5.40" fill="#111" stroke="#111" stroke-width="0.12">+1.196e+02</text>
<line x1="303.6" y1="226.33" x2="306.6" y2="226.33" stroke="#555" stroke-width="0.5"/>
<text x="309.6" y="228.28" font-family="DejaVu Sans, Liberation Sans, sans-serif" font-size="5.40" fill="#111" stroke="#111" stroke-width="0.12">-1.224e+01</text>
<line x1="303.6" y1="231.70" x2="306.6" y2="231.70" stroke="#555" stroke-width="0.5"/>
<text x="309.6" y="233.64" font-family="DejaVu Sans, Liberation Sans, sans-serif" font-size="5.40" fill="#111" stroke="#111" stroke-width="0.12">-1.441e+02</text>
<line x1="303.6" y1="237.07" x2="306.6" y2="237.07" stroke="#555" stroke-width="0.5"/>
<text x="309.6" y="239.01" font-family="DejaVu Sans, Liberation Sans, sans-serif" font-size="5.40" fill="#111" stroke="#111" stroke-width="0.12">-2.760e+02</text>
<line x1="303.6" y1="242.43" x2="306.6" y2="242.43" stroke="#555" stroke-width="0.5"/>
<text x="309.6" y="244.38" font-family="DejaVu Sans, Liberation Sans, sans-serif" font-size="5.40" fill="#111" stroke="#111" stroke-width="0.12">-4.078e+02</text>
<line x1="303.6" y1="247.80" x2="306.6" y2="247.80" stroke="#555" stroke-width="0.5"/>
<text x="309.6" y="249.74" font-family="DejaVu Sans, Liberation Sans, sans-serif" font-size="5.40" fill="#111" stroke="#111" stroke-width="0.12">-5.397e+02</text>
<defs><clipPath id="clipC"><polygon points="363.9,155.2 540.4,155.2 537.6,247.6 536.4,248.4 531.8,249.3 526.4,253.3 520.0,253.6 465.7,255.1 358.1,255.2 359.6,221.0"/></clipPath>
<filter id="blC" x="-10%" y="-10%" width="120%" height="120%"><feGaussianBlur stdDeviation="0.7"/></filter></defs>
<g clip-path="url(#clipC)"><g filter="url(#blC)">
<rect x="350" y="148" width="200" height="112" fill="#5cb848"/>
<path d="M350.0 140.0 C363.0 127.2 402.8 137.6 415.0 140.0 C427.2 142.4 413.7 145.7 411.0 152.0 C408.3 158.3 404.7 164.1 401.5 171.4 C398.3 178.7 397.3 183.1 395.0 188.6 C392.7 194.1 392.0 195.8 390.0 199.0 C388.0 202.2 388.0 203.2 385.0 204.5 C382.0 205.8 382.0 205.6 375.0 205.5 C368.0 205.4 355.0 217.1 350.0 204.0 C345.0 190.9 337.0 152.8 350.0 140.0Z" fill="#98ca3c" />
<polygon points="466.5,238.5 485.0,222.0 504.3,203.6 516.0,185.0 525.8,168.0 530.0,148.0 548.0,148.0 548.0,260.0 520.0,260.0 520.0,236.0" fill="#52b87c" />
<path d="M380.0 258.0 C363.0 254.8 380.4 248.6 380.9 241.8 C381.4 235.0 381.2 230.9 382.3 224.1 C383.4 217.3 384.5 212.9 386.4 207.7 C388.3 202.5 388.4 200.9 392.0 198.0 C395.6 195.1 398.8 194.4 404.6 193.0 C410.4 191.6 415.3 191.4 420.8 191.2 C426.3 191.0 429.9 193.9 432.3 191.8 C434.7 189.7 431.7 182.8 432.6 180.5 C433.5 178.2 435.9 178.0 436.8 180.5 C437.7 183.0 434.2 188.8 437.0 192.9 C439.8 197.0 446.2 196.7 450.7 201.0 C455.2 205.3 456.7 208.2 459.3 214.3 C461.9 220.4 462.6 225.5 463.8 231.5 C465.0 237.5 465.1 239.0 465.5 244.3 C465.9 249.6 482.8 255.3 465.7 258.0 C448.6 260.7 397.0 261.2 380.0 258.0Z" fill="#98ca3c" />
<path d="M383.0 258.0 C362.1 254.4 382.3 250.7 384.3 244.6 C386.3 238.5 385.9 239.4 390.5 235.0 C395.1 230.6 395.6 231.1 401.4 228.2 C407.2 225.3 406.0 225.8 412.3 224.1 C418.6 222.4 418.7 222.1 425.0 221.9 C431.3 221.7 430.7 222.2 435.8 223.2 C440.9 224.2 439.4 223.3 444.0 225.5 C448.6 227.7 448.8 227.6 452.9 231.5 C457.0 235.4 457.1 235.6 459.5 240.0 C461.9 244.4 461.2 243.2 462.0 248.0 C462.8 252.8 483.6 255.3 462.5 258.0 C441.4 260.7 403.9 261.6 383.0 258.0Z" fill="#dcdc34" />
<path d="M429.3 258.0 C421.5 255.8 429.1 252.7 432.5 249.7 C435.9 246.7 437.9 247.6 442.2 246.9 C446.5 246.2 444.9 246.6 448.6 247.2 C452.3 247.8 452.7 247.7 456.0 249.0 C459.3 250.3 459.5 249.6 461.0 252.0 C462.5 254.4 470.1 256.4 461.6 258.0 C453.1 259.6 437.1 260.2 429.3 258.0Z" fill="#f0a02c" />
<polygon points="465.6,239.3 510.0,236.6 528.0,234.8 527.4,258.0 465.8,258.0" fill="#36ae56" />
<path d="M533.2 233.0 C534.1 231.0 534.9 231.0 535.8 233.0 C536.7 235.0 536.7 237.0 535.8 239.0 C534.9 241.0 534.1 241.0 533.2 239.0 C532.3 237.0 532.3 235.0 533.2 233.0Z" fill="#58c4c0" />
<path d="M354.0 222.0 C356.1 214.9 361.7 220.5 364.5 222.5 C367.3 224.5 366.7 227.5 368.0 232.0 C369.3 236.5 370.2 239.8 370.8 245.0 C371.4 250.2 374.6 255.4 371.2 258.0 C367.8 260.6 357.4 265.2 354.0 258.0 C350.6 250.8 351.9 229.1 354.0 222.0Z" fill="#52b87c" />
<path d="M354.0 222.0 C355.8 215.0 360.6 221.0 363.0 223.0 C365.4 225.0 365.0 227.6 366.2 232.0 C367.4 236.4 368.3 239.8 369.0 245.0 C369.7 250.2 372.6 255.4 369.6 258.0 C366.6 260.6 357.1 265.2 354.0 258.0 C350.9 250.8 352.2 229.0 354.0 222.0Z" fill="#4cc2c6" />
<path d="M354.0 223.0 C355.5 216.2 359.5 222.0 361.6 224.0 C363.7 226.0 363.5 228.8 364.6 233.0 C365.7 237.2 366.4 240.0 367.0 245.0 C367.6 250.0 370.4 255.4 367.8 258.0 C365.2 260.6 356.8 265.0 354.0 258.0 C351.2 251.0 352.5 229.8 354.0 223.0Z" fill="#3c9ee2" />
<path d="M354.0 223.0 C355.2 216.4 358.4 223.0 360.2 225.0 C362.0 227.0 362.0 229.0 363.0 233.0 C364.0 237.0 364.7 240.0 365.3 245.0 C365.9 250.0 368.3 255.4 366.0 258.0 C363.7 260.6 356.4 265.0 354.0 258.0 C351.6 251.0 352.8 229.6 354.0 223.0Z" fill="#2c46b0" />
</g>
<path d="M363.4 163.3 Q451.8 164.3 540.1 163.0 M363.0 171.4 Q451.4 172.4 539.8 171.1 M362.5 179.6 Q451.0 180.6 539.6 179.3 M362.0 187.5 Q450.7 188.5 539.3 187.2 M361.6 195.5 Q450.3 196.5 539.0 195.2 M361.1 203.2 Q449.9 204.2 538.8 202.9 M360.7 210.5 Q449.6 211.5 538.5 210.2 M360.3 217.5 Q449.3 218.5 538.3 217.2 M359.9 224.0 Q449.0 225.0 538.1 223.7 M359.6 229.8 Q448.7 230.8 537.9 229.5 M359.3 235.1 Q448.5 236.1 537.7 234.8 M359.0 240.1 Q448.2 241.1 537.5 239.8 M358.7 244.3 Q448.1 245.3 537.4 244.0 M358.5 248.2 Q447.9 249.2 537.2 247.9 M358.3 251.8 Q447.7 252.8 537.1 251.5 M373.6 155.2 L367.9 255.2 M383.3 155.2 L377.8 255.2 M393.0 155.2 L387.6 255.2 M402.7 155.2 L397.4 255.2 M412.4 155.2 L407.2 255.2 M422.1 155.2 L417.1 255.2 M431.8 155.2 L426.9 255.2 M441.5 155.2 L436.7 255.2 M451.2 155.2 L446.6 255.2 M460.9 155.2 L456.4 255.2 M470.6 155.2 L466.2 255.2 M480.3 155.2 L476.1 255.2 M490.0 155.2 L485.9 255.2 M499.7 155.2 L495.7 255.2 M509.4 155.2 L505.5 255.2 M519.1 155.2 L515.4 255.2 M528.8 155.2 L525.2 255.2 M538.5 155.2 L535.0 255.2 M364.4 231.0 L363.0 255.2 M374.2 231.0 L372.8 255.2 M384.0 231.0 L382.7 255.2 M393.8 231.0 L392.5 255.2 M403.6 231.0 L402.3 255.2 M413.4 231.0 L412.2 255.2 M423.2 231.0 L422.0 255.2 M433.0 231.0 L431.8 255.2 M442.8 231.0 L441.7 255.2 M452.6 231.0 L451.5 255.2 M462.4 231.0 L461.3 255.2 M472.2 231.0 L471.1 255.2 M482.0 231.0 L481.0 255.2 M491.8 231.0 L490.8 255.2 M501.6 231.0 L500.6 255.2 M511.4 231.0 L510.5 255.2 M521.2 231.0 L520.3 255.2 M531.0 231.0 L530.1 255.2" fill="none" stroke="#142808" stroke-width="0.95" opacity="0.20"/><path d="M424.0 205.0 L423.0 255.2 M428.2 205.0 L427.2 255.2 M432.4 205.0 L431.4 255.2 M436.6 205.0 L435.6 255.2 M440.8 205.0 L439.8 255.2 M445.0 205.0 L444.0 255.2 M449.2 205.0 L448.2 255.2 M453.4 205.0 L452.4 255.2 M457.6 205.0 L456.6 255.2 M461.8 205.0 L460.8 255.2 M466.0 205.0 L465.0 255.2 M470.2 205.0 L469.2 255.2 M474.4 205.0 L473.4 255.2 M478.6 205.0 L477.6 255.2 M482.8 205.0 L481.8 255.2 M487.0 205.0 L486.0 255.2 M491.2 205.0 L490.2 255.2 M495.4 205.0 L494.4 255.2 M499.6 205.0 L498.6 255.2 M503.8 205.0 L502.8 255.2 M424.0 205.0 L505.0 205.0 M424.0 208.1 L505.0 208.1 M424.0 211.2 L505.0 211.2 M424.0 214.3 L505.0 214.3 M424.0 217.4 L505.0 217.4 M424.0 220.5 L505.0 220.5 M424.0 223.6 L505.0 223.6 M424.0 226.7 L505.0 226.7 M424.0 229.8 L505.0 229.8 M424.0 232.9 L505.0 232.9 M424.0 236.0 L505.0 236.0 M424.0 239.1 L505.0 239.1 M424.0 242.2 L505.0 242.2 M424.0 245.3 L505.0 245.3 M424.0 248.4 L505.0 248.4 M424.0 251.5 L505.0 251.5 M424.0 254.6 L505.0 254.6" fill="none" stroke="#142808" stroke-width="0.5" opacity="0.20"/>
</g>
<line x1="540.3" y1="155.2" x2="537.6" y2="247.4" stroke="#111" stroke-width="1"/>
<text x="428.6" y="278.3" font-family="Liberation Serif, serif" font-size="10" text-anchor="middle" fill="#111">(<tspan font-weight="bold">c</tspan>)</text>
<!-- panel d -->
<rect x="37.5" y="285.8" width="61.1" height="87.8" fill="#fff" stroke="#9a9a9a" stroke-width="0.8"/>
<text x="43.3" y="296.7" font-family="DejaVu Sans, Liberation Sans, sans-serif" font-size="6.00" fill="#222">S, S22</text>
<rect x="43.3" y="302.50" width="8.1" height="5.58" fill="#ff0000"/>
<rect x="43.3" y="307.98" width="8.1" height="5.58" fill="#ff5d00"/>
<rect x="43.3" y="313.47" width="8.1" height="5.58" fill="#ffb900"/>
<rect x="43.3" y="318.95" width="8.1" height="5.58" fill="#e8ff00"/>
<rect x="43.3" y="324.43" width="8.1" height="5.58" fill="#8bff00"/>
<rect x="43.3" y="329.92" width="8.1" height="5.58" fill="#2eff00"/>
<rect x="43.3" y="335.40" width="8.1" height="5.58" fill="#00ff2e"/>
<rect x="43.3" y="340.88" width="8.1" height="5.58" fill="#00ff8b"/>
<rect x="43.3" y="346.37" width="8.1" height="5.58" fill="#00ffe8"/>
<rect x="43.3" y="351.85" width="8.1" height="5.58" fill="#00b9ff"/>
<rect x="43.3" y="357.33" width="8.1" height="5.58" fill="#005dff"/>
<rect x="43.3" y="362.82" width="8.1" height="5.58" fill="#0000ff"/>
<line x1="51.4" y1="302.00" x2="54.4" y2="302.00" stroke="#555" stroke-width="0.5"/>
<text x="56.8" y="304.01" font-family="DejaVu Sans, Liberation Sans, sans-serif" font-size="5.57" fill="#111" stroke="#111" stroke-width="0.12">+4.850e+02</text>
<line x1="51.4" y1="307.45" x2="54.4" y2="307.45" stroke="#555" stroke-width="0.5"/>
<text x="56.8" y="309.46" font-family="DejaVu Sans, Liberation Sans, sans-serif" font-size="5.57" fill="#111" stroke="#111" stroke-width="0.12">+4.296e+02</text>
<line x1="51.4" y1="312.90" x2="54.4" y2="312.90" stroke="#555" stroke-width="0.5"/>
<text x="56.8" y="314.91" font-family="DejaVu Sans, Liberation Sans, sans-serif" font-size="5.57" fill="#111" stroke="#111" stroke-width="0.12">+3.742e+02</text>
<line x1="51.4" y1="318.35" x2="54.4" y2="318.35" stroke="#555" stroke-width="0.5"/>
<text x="56.8" y="320.36" font-family="DejaVu Sans, Liberation Sans, sans-serif" font-size="5.57" fill="#111" stroke="#111" stroke-width="0.12">+3.187e+02</text>
<line x1="51.4" y1="323.80" x2="54.4" y2="323.80" stroke="#555" stroke-width="0.5"/>
<text x="56.8" y="325.81" font-family="DejaVu Sans, Liberation Sans, sans-serif" font-size="5.57" fill="#111" stroke="#111" stroke-width="0.12">+2.633e+02</text>
<line x1="51.4" y1="329.25" x2="54.4" y2="329.25" stroke="#555" stroke-width="0.5"/>
<text x="56.8" y="331.26" font-family="DejaVu Sans, Liberation Sans, sans-serif" font-size="5.57" fill="#111" stroke="#111" stroke-width="0.12">+2.078e+02</text>
<line x1="51.4" y1="334.70" x2="54.4" y2="334.70" stroke="#555" stroke-width="0.5"/>
<text x="56.8" y="336.71" font-family="DejaVu Sans, Liberation Sans, sans-serif" font-size="5.57" fill="#111" stroke="#111" stroke-width="0.12">+1.524e+02</text>
<line x1="51.4" y1="340.15" x2="54.4" y2="340.15" stroke="#555" stroke-width="0.5"/>
<text x="56.8" y="342.16" font-family="DejaVu Sans, Liberation Sans, sans-serif" font-size="5.57" fill="#111" stroke="#111" stroke-width="0.12">+9.696e+01</text>
<line x1="51.4" y1="345.60" x2="54.4" y2="345.60" stroke="#555" stroke-width="0.5"/>
<text x="56.8" y="347.61" font-family="DejaVu Sans, Liberation Sans, sans-serif" font-size="5.57" fill="#111" stroke="#111" stroke-width="0.12">+4.152e+01</text>
<line x1="51.4" y1="351.05" x2="54.4" y2="351.05" stroke="#555" stroke-width="0.5"/>
<text x="56.8" y="353.06" font-family="DejaVu Sans, Liberation Sans, sans-serif" font-size="5.57" fill="#111" stroke="#111" stroke-width="0.12">-1.392e+01</text>
<line x1="51.4" y1="356.50" x2="54.4" y2="356.50" stroke="#555" stroke-width="0.5"/>
<text x="56.8" y="358.51" font-family="DejaVu Sans, Liberation Sans, sans-serif" font-size="5.57" fill="#111" stroke="#111" stroke-width="0.12">-6.936e+01</text>
<line x1="51.4" y1="361.95" x2="54.4" y2="361.95" stroke="#555" stroke-width="0.5"/>
<text x="56.8" y="363.96" font-family="DejaVu Sans, Liberation Sans, sans-serif" font-size="5.57" fill="#111" stroke="#111" stroke-width="0.12">-1.248e+02</text>
<line x1="51.4" y1="367.40" x2="54.4" y2="367.40" stroke="#555" stroke-width="0.5"/>
<text x="56.8" y="369.41" font-family="DejaVu Sans, Liberation Sans, sans-serif" font-size="5.57" fill="#111" stroke="#111" stroke-width="0.12">-1.802e+02</text>
<defs><clipPath id="clipD"><polygon points="108.3,285.5 264.0,285.5 261.5,366.8 258.0,369.5 251.8,371.2 247.0,371.0 199.3,373.5 102.5,373.6"/></clipPath>
<filter id="blD" x="-10%" y="-10%" width="120%" height="120%"><feGaussianBlur stdDeviation="0.8"/></filter></defs>
<g clip-path="url(#clipD)"><g filter="url(#blD)">
<rect x="95" y="280" width="180" height="100" fill="#1edfd6"/>
<path d="M109.0 330.0 C109.7 326.0 108.0 331.1 112.2 325.2 C116.3 319.2 115.2 318.2 122.9 310.2 C130.6 302.2 128.2 304.5 137.9 298.4 C147.5 292.2 146.0 294.6 155.0 289.8 C164.0 285.0 152.7 284.5 167.9 282.3 C183.1 280.0 189.2 281.6 205.7 282.3 C222.2 282.9 214.8 280.6 222.9 284.4 C230.9 288.3 228.5 288.7 232.5 295.2 C236.5 301.6 235.5 298.8 236.2 305.9 C236.8 312.9 237.1 311.7 234.7 318.7 C232.3 325.8 233.1 324.0 228.2 329.5 C223.4 334.9 225.4 332.9 218.6 337.0 C211.8 341.0 213.4 341.1 205.7 343.0 C198.0 344.9 200.6 343.3 192.9 343.4 C185.2 343.5 187.5 343.3 180.0 343.4 C172.5 343.5 174.3 343.5 167.9 343.8 C161.5 344.1 167.2 343.7 158.5 344.5 C149.8 345.3 147.8 345.4 139.0 346.5 C130.2 347.6 134.5 347.8 129.2 348.0 C123.9 348.2 125.8 348.4 121.4 347.3 C117.0 346.2 118.1 346.9 114.6 344.3 C111.1 341.7 111.4 342.8 109.7 338.5 C108.0 334.2 108.3 334.0 109.0 330.0Z" fill="#1c98ea" />
<path d="M123.9 329.5 C125.9 325.3 125.3 325.2 131.4 320.5 C137.6 315.7 136.0 317.1 144.3 313.6 C152.7 310.1 149.7 310.7 159.3 308.9 C169.0 307.1 167.1 307.5 176.5 307.6 C185.9 307.7 184.2 305.6 190.7 309.3 C197.2 313.0 196.6 313.8 198.2 319.8 C199.8 325.9 199.0 324.3 196.1 329.5 C193.2 334.6 193.4 333.7 188.6 337.0 C183.8 340.2 186.2 339.1 180.0 340.2 C173.8 341.3 177.3 340.5 167.9 340.6 C158.5 340.7 158.9 341.3 148.6 340.6 C138.3 340.0 140.7 340.4 133.6 338.5 C126.5 336.5 127.9 336.9 125.0 334.2 C122.1 331.5 122.0 333.6 123.9 329.5Z" fill="#1664e6" />
<path d="M135.3 329.5 C135.6 326.7 135.4 326.5 140.0 324.1 C144.7 321.7 143.7 322.3 150.7 321.3 C157.8 320.3 156.9 320.2 163.6 320.9 C170.4 321.5 169.4 321.2 173.3 323.5 C177.1 325.7 176.8 325.4 176.5 328.4 C176.2 331.3 176.7 331.1 172.2 333.3 C167.7 335.6 168.5 335.1 161.5 335.9 C154.4 336.7 155.4 336.7 148.6 335.9 C141.8 335.1 142.9 335.2 139.0 333.3 C135.0 331.4 135.0 332.2 135.3 329.5Z" fill="#0c1cd6" />
<polygon points="171.3,294.1 175.6,294.1 170.0,320.9 166.0,320.9" fill="#1664e6" />
<polygon points="166.0,320.9 170.0,320.9 167.9,330.7 163.6,330.7" fill="#4a9ce8" />
<path d="M99.3 353.5 C103.9 346.5 106.1 351.5 116.4 350.5 C126.7 349.4 126.4 349.6 137.9 349.6 C149.3 349.6 147.9 349.9 159.3 350.5 C170.8 351.0 171.0 350.7 180.8 351.8 C190.5 352.8 192.5 352.0 195.8 354.3 C199.0 356.7 191.4 358.0 192.9 360.5 C194.4 363.1 198.6 359.5 201.4 363.8 C204.3 368.1 230.8 373.2 203.6 376.6 C176.3 380.1 127.1 382.8 99.3 376.6 C71.5 370.5 94.7 360.4 99.3 353.5Z" fill="#30e070" />
<path d="M107.9 376.6 C85.8 373.2 111.7 368.5 118.6 363.8 C125.4 359.1 125.0 360.6 133.6 359.0 C142.2 357.4 141.6 357.9 150.7 357.8 C159.9 357.6 158.8 357.9 167.9 358.6 C177.0 359.3 177.0 359.2 185.1 360.3 C193.1 361.5 194.1 360.8 197.9 362.9 C201.7 365.0 198.4 364.4 199.3 368.1 C200.2 371.7 225.8 374.3 201.4 376.6 C177.1 378.9 130.0 380.1 107.9 376.6Z" fill="#50e030" />
<path d="M131.4 376.6 C115.1 374.3 133.9 371.4 137.9 368.1 C141.9 364.7 140.7 365.6 146.5 364.2 C152.2 362.8 152.5 363.1 159.3 362.9 C166.2 362.7 164.8 362.6 172.2 363.3 C179.6 364.0 179.8 364.3 187.2 365.5 C194.6 366.6 197.1 365.8 200.1 367.6 C203.0 369.5 198.4 369.9 198.2 372.3 C198.0 374.7 217.1 375.5 199.3 376.6 C181.5 377.8 147.8 378.9 131.4 376.6Z" fill="#a4e82a" />
<path d="M135.7 376.6 C120.9 374.6 137.6 371.9 142.2 369.1 C146.7 366.4 146.6 367.2 152.9 366.3 C159.2 365.5 158.3 365.6 165.8 365.9 C173.2 366.3 173.9 366.5 180.8 367.6 C187.6 368.8 186.9 367.8 191.5 370.2 C196.1 372.6 212.8 374.9 197.9 376.6 C183.1 378.3 150.6 378.6 135.7 376.6Z" fill="#f0e020" />
<path d="M157.2 376.6 C150.3 375.2 158.0 373.1 161.5 371.3 C164.9 369.4 164.9 369.8 170.0 369.8 C175.2 369.7 176.2 369.2 180.8 371.1 C185.3 372.9 193.5 375.1 187.2 376.6 C180.9 378.1 164.0 378.1 157.2 376.6Z" fill="#f89020" />
<path d="M99.3 364.8 C101.6 361.4 104.1 362.6 107.9 363.8 C111.6 364.9 112.1 365.7 113.2 369.1 C114.4 372.6 115.9 374.6 112.2 376.6 C108.4 378.6 102.7 379.8 99.3 376.6 C95.9 373.5 97.0 368.3 99.3 364.8Z" fill="#70e838" />
<path d="M186.0 350.0 C190.4 343.4 197.3 347.5 205.0 347.5 C212.7 347.5 214.1 348.0 219.0 350.0 C223.9 352.0 224.6 350.4 226.0 356.0 C227.4 361.6 234.3 369.3 225.0 374.0 C215.7 378.7 195.1 381.6 186.0 376.0 C176.9 370.4 181.6 356.6 186.0 350.0Z" fill="#30e070" />
<path d="M186.0 356.0 C188.3 351.1 192.7 353.6 196.0 355.0 C199.3 356.4 199.3 357.1 200.0 362.0 C200.7 366.9 202.3 372.7 199.0 376.0 C195.7 379.3 189.0 380.7 186.0 376.0 C183.0 371.3 183.7 360.9 186.0 356.0Z" fill="#a4e82a" />
<path d="M186.0 366.0 C187.4 363.6 189.9 364.8 192.0 365.5 C194.1 366.2 194.3 366.6 195.0 369.0 C195.7 371.4 197.1 374.4 195.0 376.0 C192.9 377.6 188.1 378.3 186.0 376.0 C183.9 373.7 184.6 368.4 186.0 366.0Z" fill="#f0e020" />
<path d="M198.4 370.5 Q195.8 363.5 199.8 359.6 Q203 357.6 207 358.2" fill="none" stroke="#f08a20" stroke-width="1.6"/>
<path d="M199.6 369 Q197.6 364 200.6 361" fill="none" stroke="#e83818" stroke-width="1.0"/>
<path d="M203.2 362.0 C203.8 360.8 205.6 359.7 207.0 359.0 C208.4 358.3 208.6 358.1 211.8 357.9 C215.0 357.6 223.6 355.4 226.0 357.5 C228.4 359.6 228.4 368.1 226.0 370.2 C223.6 372.3 215.1 370.2 211.8 370.0 C208.5 369.8 207.4 369.6 206.0 369.0 C204.6 368.4 203.9 367.7 203.4 366.5 C202.9 365.3 202.6 363.2 203.2 362.0Z" fill="#2cb4dc" />
<path d="M204.5 364.2 C205.4 363.7 208.2 363.6 210.0 363.6 C211.8 363.6 214.2 363.7 215.0 364.2 C215.8 364.7 216.0 366.1 215.0 366.6 C214.0 367.1 210.8 367.2 209.0 367.2 C207.2 367.2 205.2 367.1 204.5 366.6 C203.8 366.1 203.6 364.7 204.5 364.2Z" fill="#2478d8" />
</g>
<polygon points="224.2,357.6 246.7,356.9 246.9,372.0 224.2,372.5" fill="#1690c6" />
<polygon points="171.1,294.1 175.8,294.1 170.5,320.9 165.8,320.9" fill="#2a74e0" opacity="0.85"/>
<polygon points="165.8,320.9 170.5,320.9 168.1,330.7 163.4,330.8" fill="#58a4ec" opacity="0.9"/>
<path d="M167.3 309.0 C168.2 306.8 168.9 307.5 170.0 308.0 C171.1 308.5 171.5 309.0 171.8 311.0 C172.1 313.0 171.9 314.5 171.2 316.5 C170.5 318.5 169.9 319.3 168.8 319.5 C167.7 319.7 166.7 319.9 166.3 317.5 C166.0 315.1 166.4 311.2 167.3 309.0Z" fill="#1442d8" />
<path d="M107.8 292.7 Q185.8 293.7 263.8 292.4 M107.4 299.9 Q185.4 300.9 263.5 299.6 M106.9 307.3 Q185.1 308.3 263.3 307.0 M106.4 314.5 Q184.7 315.5 263.1 314.2 M105.9 321.5 Q184.4 322.5 262.9 321.2 M105.5 328.3 Q184.1 329.3 262.6 328.0 M105.1 334.6 Q183.8 335.6 262.4 334.3 M104.7 340.4 Q183.5 341.4 262.3 340.1 M104.3 345.9 Q183.2 346.9 262.1 345.6 M104.0 350.6 Q183.0 351.6 261.9 350.3 M103.7 355.0 Q182.8 356.0 261.8 354.7 M103.5 358.9 Q182.6 359.9 261.7 358.6 M103.2 362.3 Q182.4 363.3 261.6 362.0 M103.0 365.4 Q182.2 366.4 261.5 365.1 M102.9 368.1 Q182.1 369.1 261.4 367.8 M102.7 370.6 Q182.0 371.6 261.3 370.3 M116.7 285.5 L111.1 373.5 M125.1 285.5 L119.7 373.5 M133.5 285.5 L128.2 373.5 M142.0 285.5 L136.8 373.5 M150.4 285.5 L145.4 373.5 M158.8 285.5 L154.0 373.5 M167.2 285.5 L162.5 373.5 M175.6 285.5 L171.1 373.5 M184.0 285.5 L179.7 373.5 M192.5 285.5 L188.3 373.5 M200.9 285.5 L196.9 373.5 M209.3 285.5 L205.4 373.5 M217.7 285.5 L214.0 373.5 M226.1 285.5 L222.6 373.5 M234.5 285.5 L231.2 373.5 M243.0 285.5 L239.8 373.5 M251.4 285.5 L248.3 373.5 M259.8 285.5 L256.9 373.5 M108.1 354.0 L106.8 373.5 M116.6 354.0 L115.4 373.5 M125.1 354.0 L123.9 373.5 M133.7 354.0 L132.5 373.5 M142.2 354.0 L141.1 373.5 M150.8 354.0 L149.7 373.5 M159.3 354.0 L158.3 373.5 M167.9 354.0 L166.8 373.5 M176.4 354.0 L175.4 373.5 M184.9 354.0 L184.0 373.5 M193.5 354.0 L192.6 373.5 M202.0 354.0 L201.2 373.5 M210.6 354.0 L209.7 373.5 M219.1 354.0 L218.3 373.5 M227.7 354.0 L226.9 373.5 M236.2 354.0 L235.5 373.5 M244.7 354.0 L244.0 373.5 M253.3 354.0 L252.6 373.5" fill="none" stroke="#062838" stroke-width="1.00" opacity="0.19"/><path d="M162.0 347.0 L161.5 373.5 M166.2 347.0 L165.7 373.5 M170.4 347.0 L169.9 373.5 M174.6 347.0 L174.1 373.5 M178.8 347.0 L178.3 373.5 M183.0 347.0 L182.5 373.5 M187.2 347.0 L186.7 373.5 M191.4 347.0 L190.9 373.5 M195.6 347.0 L195.1 373.5 M199.8 347.0 L199.3 373.5 M204.0 347.0 L203.5 373.5 M208.2 347.0 L207.7 373.5 M212.4 347.0 L211.9 373.5 M216.6 347.0 L216.1 373.5 M220.8 347.0 L220.3 373.5 M225.0 347.0 L224.5 373.5 M229.2 347.0 L228.7 373.5 M233.4 347.0 L232.9 373.5 M162.0 347.0 L236.0 347.0 M162.0 350.1 L236.0 350.1 M162.0 353.2 L236.0 353.2 M162.0 356.3 L236.0 356.3 M162.0 359.4 L236.0 359.4 M162.0 362.5 L236.0 362.5 M162.0 365.6 L236.0 365.6 M162.0 368.7 L236.0 368.7 M162.0 371.8 L236.0 371.8" fill="none" stroke="#062838" stroke-width="0.5" opacity="0.20"/>
</g>
<polygon points="108.3,285.5 109.6,285.5 104.6,373.6 102.5,373.6" fill="#0aa8a0" opacity="0.7"/>
<line x1="264" y1="285.5" x2="261.5" y2="367" stroke="#111" stroke-width="1"/>
<text x="150.0" y="387.9" font-family="Liberation Serif, serif" font-size="10" text-anchor="middle" fill="#111">(<tspan font-weight="bold">d</tspan>)</text>
<!-- panel e -->
<rect x="316.7" y="283.1" width="57.9" height="90.5" fill="#fff" stroke="#9a9a9a" stroke-width="0.8"/>
<text x="322.0" y="293.9" font-family="DejaVu Sans, Liberation Sans, sans-serif" font-size="5.60" fill="#222">S, S33</text>
<rect x="322.0" y="305.60" width="8.0" height="5.32" fill="#ff0000"/>
<rect x="322.0" y="310.82" width="8.0" height="5.32" fill="#ff5d00"/>
<rect x="322.0" y="316.03" width="8.0" height="5.32" fill="#ffb900"/>
<rect x="322.0" y="321.25" width="8.0" height="5.32" fill="#e8ff00"/>
<rect x="322.0" y="326.47" width="8.0" height="5.32" fill="#8bff00"/>
<rect x="322.0" y="331.68" width="8.0" height="5.32" fill="#2eff00"/>
<rect x="322.0" y="336.90" width="8.0" height="5.32" fill="#00ff2e"/>
<rect x="322.0" y="342.12" width="8.0" height="5.32" fill="#00ff8b"/>
<rect x="322.0" y="347.33" width="8.0" height="5.32" fill="#00ffe8"/>
<rect x="322.0" y="352.55" width="8.0" height="5.32" fill="#00b9ff"/>
<rect x="322.0" y="357.77" width="8.0" height="5.32" fill="#005dff"/>
<rect x="322.0" y="362.98" width="8.0" height="5.32" fill="#0000ff"/>
<line x1="330.0" y1="305.00" x2="333.0" y2="305.00" stroke="#555" stroke-width="0.5"/>
<text x="335.4" y="306.88" font-family="DejaVu Sans, Liberation Sans, sans-serif" font-size="5.23" fill="#111" stroke="#111" stroke-width="0.12">+4.516e+02</text>
<line x1="330.0" y1="310.23" x2="333.0" y2="310.23" stroke="#555" stroke-width="0.5"/>
<text x="335.4" y="312.12" font-family="DejaVu Sans, Liberation Sans, sans-serif" font-size="5.23" fill="#111" stroke="#111" stroke-width="0.12">+3.937e+02</text>
<line x1="330.0" y1="315.47" x2="333.0" y2="315.47" stroke="#555" stroke-width="0.5"/>
<text x="335.4" y="317.35" font-family="DejaVu Sans, Liberation Sans, sans-serif" font-size="5.23" fill="#111" stroke="#111" stroke-width="0.12">+3.359e+02</text>
<line x1="330.0" y1="320.70" x2="333.0" y2="320.70" stroke="#555" stroke-width="0.5"/>
<text x="335.4" y="322.58" font-family="DejaVu Sans, Liberation Sans, sans-serif" font-size="5.23" fill="#111" stroke="#111" stroke-width="0.12">+2.781e+02</text>
<line x1="330.0" y1="325.93" x2="333.0" y2="325.93" stroke="#555" stroke-width="0.5"/>
<text x="335.4" y="327.82" font-family="DejaVu Sans, Liberation Sans, sans-serif" font-size="5.23" fill="#111" stroke="#111" stroke-width="0.12">+2.203e+02</text>
<line x1="330.0" y1="331.17" x2="333.0" y2="331.17" stroke="#555" stroke-width="0.5"/>
<text x="335.4" y="333.05" font-family="DejaVu Sans, Liberation Sans, sans-serif" font-size="5.23" fill="#111" stroke="#111" stroke-width="0.12">+1.624e+02</text>
<line x1="330.0" y1="336.40" x2="333.0" y2="336.40" stroke="#555" stroke-width="0.5"/>
<text x="335.4" y="338.28" font-family="DejaVu Sans, Liberation Sans, sans-serif" font-size="5.23" fill="#111" stroke="#111" stroke-width="0.12">+1.046e+02</text>
<line x1="330.0" y1="341.63" x2="333.0" y2="341.63" stroke="#555" stroke-width="0.5"/>
<text x="335.4" y="343.52" font-family="DejaVu Sans, Liberation Sans, sans-serif" font-size="5.23" fill="#111" stroke="#111" stroke-width="0.12">+4.678e+01</text>
<line x1="330.0" y1="346.87" x2="333.0" y2="346.87" stroke="#555" stroke-width="0.5"/>
<text x="335.4" y="348.75" font-family="DejaVu Sans, Liberation Sans, sans-serif" font-size="5.23" fill="#111" stroke="#111" stroke-width="0.12">-1.105e+01</text>
<line x1="330.0" y1="352.10" x2="333.0" y2="352.10" stroke="#555" stroke-width="0.5"/>
<text x="335.4" y="353.98" font-family="DejaVu Sans, Liberation Sans, sans-serif" font-size="5.23" fill="#111" stroke="#111" stroke-width="0.12">-6.887e+01</text>
<line x1="330.0" y1="357.33" x2="333.0" y2="357.33" stroke="#555" stroke-width="0.5"/>
<text x="335.4" y="359.22" font-family="DejaVu Sans, Liberation Sans, sans-serif" font-size="5.23" fill="#111" stroke="#111" stroke-width="0.12">-1.267e+02</text>
<line x1="330.0" y1="362.57" x2="333.0" y2="362.57" stroke="#555" stroke-width="0.5"/>
<text x="335.4" y="364.45" font-family="DejaVu Sans, Liberation Sans, sans-serif" font-size="5.23" fill="#111" stroke="#111" stroke-width="0.12">-1.845e+02</text>
<line x1="330.0" y1="367.80" x2="333.0" y2="367.80" stroke="#555" stroke-width="0.5"/>
<text x="335.4" y="369.68" font-family="DejaVu Sans, Liberation Sans, sans-serif" font-size="5.23" fill="#111" stroke="#111" stroke-width="0.12">-2.423e+02</text>
<defs><clipPath id="clipE"><polygon points="383.3,284.0 540.3,284.0 537.6,363.8 529.5,370.8 523.0,371.0 474.3,373.5 377.5,373.6"/></clipPath>
<filter id="blE" x="-10%" y="-10%" width="120%" height="120%"><feGaussianBlur stdDeviation="0.6"/></filter></defs>
<g clip-path="url(#clipE)"><g filter="url(#blE)">
<rect x="370" y="278" width="180" height="100" fill="#08e880"/>
<polygon points="383.3,284.0 377.5,373.6 381.0,373.6 381.0,358.0 384.5,284.0" fill="#0cc870" />
<polygon points="473.8,359.3 527.0,356.4 538.0,364.5 545.0,364.0 545.0,380.0 473.8,380.0" fill="#0ed47a" />
<path d="M464.8 356.4 L473 362" stroke="#30d8d0" stroke-width="2.2" fill="none" stroke-linecap="round"/>
<path d="M475.2 359.0 C475.9 357.0 479.4 358.6 480.5 358.8 C481.6 359.0 483.1 358.6 483.5 360.5 C483.9 362.4 484.6 371.2 483.5 373.0 C482.4 374.8 476.3 375.9 475.2 374.0 C474.1 372.1 474.5 361.0 475.2 359.0Z" fill="#1cb0c0" />
<path d="M475.4 360.0 C476.1 357.9 478.8 359.3 479.8 360.0 C480.8 360.7 481.1 362.1 481.2 364.0 C481.3 365.9 481.2 370.1 480.2 371.5 C479.2 372.9 476.2 374.4 475.4 372.5 C474.6 370.6 474.7 362.1 475.4 360.0Z" fill="#1a6cd8" />
<path d="M476.4 362.0 C477.0 360.7 478.6 361.0 479.4 361.6 C480.2 362.2 480.3 363.7 480.2 365.0 C480.1 366.3 479.8 367.4 479.0 368.0 C478.2 368.6 476.9 369.2 476.4 368.0 C475.9 366.8 475.8 363.3 476.4 362.0Z" fill="#1830c4" />
<path d="M466.0 369.5 C467.6 368.1 472.2 367.7 473.8 369.0 C475.4 370.3 475.4 374.6 473.8 376.0 C472.2 377.4 467.6 377.3 466.0 376.0 C464.4 374.7 464.4 370.9 466.0 369.5Z" fill="#9ce024" />
<polygon points="473.6,360.0 475.2,360.0 475.2,374.0 473.6,374.0" fill="#c08828" />
</g>
<path d="M382.8 291.3 Q461.4 292.3 540.1 291.0 M382.4 298.6 Q461.1 299.6 539.8 298.3 M381.9 306.2 Q460.7 307.2 539.6 305.9 M381.4 313.5 Q460.3 314.5 539.3 313.2 M380.9 320.6 Q460.0 321.6 539.1 320.3 M380.5 327.6 Q459.7 328.6 538.8 327.3 M380.1 333.9 Q459.3 334.9 538.6 333.6 M379.7 339.9 Q459.1 340.9 538.4 339.6 M379.3 345.4 Q458.8 346.4 538.2 345.1 M379.0 350.2 Q458.5 351.2 538.1 349.9 M378.7 354.7 Q458.3 355.7 537.9 354.4 M378.5 358.7 Q458.1 359.7 537.8 358.4 M378.2 362.1 Q458.0 363.1 537.7 361.8 M378.0 365.2 Q457.8 366.2 537.6 364.9 M377.9 368.0 Q457.7 369.0 537.5 367.7 M377.7 370.6 Q457.5 371.6 537.4 370.3 M391.9 284.0 L386.3 373.5 M400.6 284.0 L395.1 373.5 M409.2 284.0 L403.8 373.5 M417.8 284.0 L412.6 373.5 M426.4 284.0 L421.4 373.5 M435.1 284.0 L430.2 373.5 M443.7 284.0 L439.0 373.5 M452.3 284.0 L447.7 373.5 M460.9 284.0 L456.5 373.5 M469.6 284.0 L465.3 373.5 M478.2 284.0 L474.1 373.5 M486.8 284.0 L482.9 373.5 M495.4 284.0 L491.6 373.5 M504.1 284.0 L500.4 373.5 M512.7 284.0 L509.2 373.5 M521.3 284.0 L518.0 373.5 M529.9 284.0 L526.8 373.5 M538.6 284.0 L535.5 373.5 M383.1 354.0 L381.9 373.5 M391.9 354.0 L390.7 373.5 M400.6 354.0 L399.5 373.5 M409.4 354.0 L408.2 373.5 M418.1 354.0 L417.0 373.5 M426.9 354.0 L425.8 373.5 M435.6 354.0 L434.6 373.5 M444.4 354.0 L443.4 373.5 M453.1 354.0 L452.1 373.5 M461.9 354.0 L460.9 373.5 M470.6 354.0 L469.7 373.5 M479.4 354.0 L478.5 373.5 M488.1 354.0 L487.3 373.5 M496.8 354.0 L496.0 373.5 M505.6 354.0 L504.8 373.5 M514.3 354.0 L513.6 373.5 M523.1 354.0 L522.4 373.5 M531.8 354.0 L531.2 373.5" fill="none" stroke="#043c20" stroke-width="1.00" opacity="0.19"/><path d="M441.0 333.0 L440.2 373.5 M445.2 333.0 L444.4 373.5 M449.4 333.0 L448.6 373.5 M453.6 333.0 L452.8 373.5 M457.8 333.0 L457.0 373.5 M462.0 333.0 L461.2 373.5 M466.2 333.0 L465.4 373.5 M470.4 333.0 L469.6 373.5 M474.6 333.0 L473.8 373.5 M478.8 333.0 L478.0 373.5 M483.0 333.0 L482.2 373.5 M487.2 333.0 L486.4 373.5 M491.4 333.0 L490.6 373.5 M495.6 333.0 L494.8 373.5 M499.8 333.0 L499.0 373.5 M504.0 333.0 L503.2 373.5 M508.2 333.0 L507.4 373.5 M512.4 333.0 L511.6 373.5 M441.0 333.0 L515.0 333.0 M441.0 336.1 L515.0 336.1 M441.0 339.2 L515.0 339.2 M441.0 342.3 L515.0 342.3 M441.0 345.4 L515.0 345.4 M441.0 348.5 L515.0 348.5 M441.0 351.6 L515.0 351.6 M441.0 354.7 L515.0 354.7 M441.0 357.8 L515.0 357.8 M441.0 360.9 L515.0 360.9 M441.0 364.0 L515.0 364.0 M441.0 367.1 L515.0 367.1 M441.0 370.2 L515.0 370.2 M441.0 373.3 L515.0 373.3" fill="none" stroke="#043c20" stroke-width="0.5" opacity="0.20"/>
</g>
<path d="M473.8 359.3 L527 356.4 L537.4 364.4" fill="none" stroke="#043c20" stroke-width="0.5" opacity="0.45"/>
<line x1="540.3" y1="284" x2="537.6" y2="363.8" stroke="#111" stroke-width="1"/>
<text x="428.9" y="388.3" font-family="Liberation Serif, serif" font-size="10" text-anchor="middle" fill="#111">(<tspan font-weight="bold">e</tspan>)</text>
<!-- chart f -->
<line x1="82.5" y1="459.3" x2="239.5" y2="459.3" stroke="#8aa8d8" stroke-width="0.7"/>
<line x1="82.5" y1="459.3" x2="239.5" y2="459.3" stroke="#b8b8b8" stroke-width="0.6" stroke-dasharray="1.5 1.5"/>
<line x1="82.5" y1="446.3" x2="239.5" y2="446.3" stroke="#b8b8b8" stroke-width="0.6" stroke-dasharray="1.5 1.5"/>
<line x1="82.5" y1="433.3" x2="239.5" y2="433.3" stroke="#b8b8b8" stroke-width="0.6" stroke-dasharray="1.5 1.5"/>
<line x1="82.5" y1="420.3" x2="239.5" y2="420.3" stroke="#b8b8b8" stroke-width="0.6" stroke-dasharray="1.5 1.5"/>
<line x1="82.5" y1="407.3" x2="239.5" y2="407.3" stroke="#b8b8b8" stroke-width="0.6" stroke-dasharray="1.5 1.5"/>
<line x1="113.9" y1="394.3" x2="113.9" y2="472.3" stroke="#b8b8b8" stroke-width="0.6" stroke-dasharray="1.5 1.5"/>
<line x1="145.3" y1="394.3" x2="145.3" y2="472.3" stroke="#b8b8b8" stroke-width="0.6" stroke-dasharray="1.5 1.5"/>
<line x1="176.7" y1="394.3" x2="176.7" y2="472.3" stroke="#b8b8b8" stroke-width="0.6" stroke-dasharray="1.5 1.5"/>
<line x1="208.1" y1="394.3" x2="208.1" y2="472.3" stroke="#b8b8b8" stroke-width="0.6" stroke-dasharray="1.5 1.5"/>
<rect x="82.5" y="394.3" width="157.0" height="78.0" fill="none" stroke="#666" stroke-width="0.9"/>
<text x="77.5" y="474.9" font-family="Liberation Serif, serif" font-size="8.0" fill="#666" text-anchor="end">-0.5</text>
<text x="77.5" y="461.9" font-family="Liberation Serif, serif" font-size="8.0" fill="#666" text-anchor="end">0</text>
<text x="77.5" y="448.9" font-family="Liberation Serif, serif" font-size="8.0" fill="#666" text-anchor="end">0.5</text>
<text x="77.5" y="435.9" font-family="Liberation Serif, serif" font-size="8.0" fill="#666" text-anchor="end">1</text>
<text x="77.5" y="422.9" font-family="Liberation Serif, serif" font-size="8.0" fill="#666" text-anchor="end">1.5</text>
<text x="77.5" y="409.9" font-family="Liberation Serif, serif" font-size="8.0" fill="#666" text-anchor="end">2</text>
<text x="77.5" y="396.9" font-family="Liberation Serif, serif" font-size="8.0" fill="#666" text-anchor="end">2.5</text>
<text x="82.5" y="484.4" font-family="Liberation Serif, serif" font-size="8.0" fill="#666" text-anchor="middle">0</text>
<text x="113.9" y="484.4" font-family="Liberation Serif, serif" font-size="8.0" fill="#666" text-anchor="middle">0.2</text>
<text x="145.3" y="484.4" font-family="Liberation Serif, serif" font-size="8.0" fill="#666" text-anchor="middle">0.4</text>
<text x="176.7" y="484.4" font-family="Liberation Serif, serif" font-size="8.0" fill="#666" text-anchor="middle">0.6</text>
<text x="208.1" y="484.4" font-family="Liberation Serif, serif" font-size="8.0" fill="#666" text-anchor="middle">0.8</text>
<text x="239.5" y="484.4" font-family="Liberation Serif, serif" font-size="8.0" fill="#666" text-anchor="middle">1</text>
<text x="161.3" y="492.3" font-family="Liberation Serif, serif" font-size="7.4" font-style="italic" fill="#666" text-anchor="middle">y/w</text>
<text transform="translate(61.0 434.0) rotate(-90)" font-family="Liberation Serif, serif" font-size="7.4" font-style="italic" fill="#666" text-anchor="middle">σ/fy</text>
<path d="M82.5 454.9 C85.1 455.4 93.0 457.3 98.2 458.0 C103.4 458.7 108.7 459.1 113.9 459.3 C119.1 459.5 124.4 459.3 129.6 459.3 C134.8 459.3 140.1 459.3 145.3 459.3 C150.5 459.3 155.8 459.3 161.0 459.3 C166.2 459.3 171.5 459.3 176.7 459.3 C181.9 459.3 187.2 459.3 192.4 459.3 C197.6 459.3 202.9 459.3 208.1 459.3 C213.3 459.3 218.6 459.3 223.8 459.3 C229.0 459.3 236.9 459.3 239.5 459.3" fill="none" stroke="#2fb050" stroke-width="0.9"/>
<polygon points="80.8,456.2 82.5,453.2 84.2,456.2" fill="#2fb050"/>
<polygon points="96.5,459.4 98.2,456.3 99.9,459.4" fill="#2fb050"/>
<polygon points="112.2,460.7 113.9,457.6 115.6,460.7" fill="#2fb050"/>
<polygon points="127.9,460.7 129.6,457.6 131.3,460.7" fill="#2fb050"/>
<polygon points="143.6,460.7 145.3,457.6 147.0,460.7" fill="#2fb050"/>
<polygon points="159.3,460.7 161.0,457.6 162.7,460.7" fill="#2fb050"/>
<polygon points="175.0,460.7 176.7,457.6 178.4,460.7" fill="#2fb050"/>
<polygon points="190.7,460.7 192.4,457.6 194.1,460.7" fill="#2fb050"/>
<polygon points="206.4,460.7 208.1,457.6 209.8,460.7" fill="#2fb050"/>
<polygon points="222.1,460.7 223.8,457.6 225.5,460.7" fill="#2fb050"/>
<polygon points="237.8,460.7 239.5,457.6 241.2,460.7" fill="#2fb050"/>
<path d="M82.5 430.2 C85.1 431.3 93.0 434.6 98.2 436.9 C103.4 439.3 108.7 442.5 113.9 444.5 C119.1 446.5 124.4 447.7 129.6 448.9 C134.8 450.1 140.1 450.7 145.3 451.5 C150.5 452.3 155.8 452.9 161.0 453.6 C166.2 454.2 171.5 454.8 176.7 455.4 C181.9 456.0 187.2 456.7 192.4 457.2 C197.6 457.8 202.9 458.3 208.1 458.8 C213.3 459.3 218.6 459.8 223.8 460.1 C229.0 460.4 236.9 460.5 239.5 460.6" fill="none" stroke="#2f86d0" stroke-width="1.1" stroke-dasharray="4 1.5"/>
<circle cx="82.5" cy="430.2" r="1.7" fill="#fff" fill-opacity="0.6" stroke="#2f86d0" stroke-width="0.8"/>
<circle cx="98.2" cy="436.9" r="1.7" fill="#fff" fill-opacity="0.6" stroke="#2f86d0" stroke-width="0.8"/>
<circle cx="113.9" cy="444.5" r="1.7" fill="#fff" fill-opacity="0.6" stroke="#2f86d0" stroke-width="0.8"/>
<circle cx="129.6" cy="448.9" r="1.7" fill="#fff" fill-opacity="0.6" stroke="#2f86d0" stroke-width="0.8"/>
<circle cx="145.3" cy="451.5" r="1.7" fill="#fff" fill-opacity="0.6" stroke="#2f86d0" stroke-width="0.8"/>
<circle cx="161.0" cy="453.6" r="1.7" fill="#fff" fill-opacity="0.6" stroke="#2f86d0" stroke-width="0.8"/>
<circle cx="176.7" cy="455.4" r="1.7" fill="#fff" fill-opacity="0.6" stroke="#2f86d0" stroke-width="0.8"/>
<circle cx="192.4" cy="457.2" r="1.7" fill="#fff" fill-opacity="0.6" stroke="#2f86d0" stroke-width="0.8"/>
<circle cx="208.1" cy="458.8" r="1.7" fill="#fff" fill-opacity="0.6" stroke="#2f86d0" stroke-width="0.8"/>
<circle cx="223.8" cy="460.1" r="1.7" fill="#fff" fill-opacity="0.6" stroke="#2f86d0" stroke-width="0.8"/>
<circle cx="239.5" cy="460.6" r="1.7" fill="#fff" fill-opacity="0.6" stroke="#2f86d0" stroke-width="0.8"/>
<path d="M82.5 410.2 C85.1 412.5 93.0 419.7 98.2 423.9 C103.4 428.2 108.7 432.6 113.9 435.6 C119.1 438.7 124.4 440.5 129.6 442.4 C134.8 444.3 140.1 445.8 145.3 447.1 C150.5 448.4 155.8 449.2 161.0 450.2 C166.2 451.2 171.5 452.0 176.7 452.8 C181.9 453.6 187.2 454.6 192.4 455.1 C197.6 455.7 202.9 456.2 208.1 456.2 C213.3 456.2 218.6 455.5 223.8 455.1 C229.0 454.8 236.9 454.1 239.5 453.8" fill="none" stroke="#7a3fb5" stroke-width="0.9" stroke-dasharray="3 1.5 1 1.5"/>
<polygon points="80.5,410.2 82.5,408.2 84.5,410.2 82.5,412.2" fill="#a98ad8" stroke="#7a3fb5" stroke-width="0.7"/>
<polygon points="96.2,423.9 98.2,421.9 100.2,423.9 98.2,425.9" fill="#a98ad8" stroke="#7a3fb5" stroke-width="0.7"/>
<polygon points="111.9,435.6 113.9,433.6 115.9,435.6 113.9,437.6" fill="#a98ad8" stroke="#7a3fb5" stroke-width="0.7"/>
<polygon points="127.6,442.4 129.6,440.4 131.6,442.4 129.6,444.4" fill="#a98ad8" stroke="#7a3fb5" stroke-width="0.7"/>
<polygon points="143.3,447.1 145.3,445.1 147.3,447.1 145.3,449.1" fill="#a98ad8" stroke="#7a3fb5" stroke-width="0.7"/>
<polygon points="159.0,450.2 161.0,448.2 163.0,450.2 161.0,452.2" fill="#a98ad8" stroke="#7a3fb5" stroke-width="0.7"/>
<polygon points="174.7,452.8 176.7,450.8 178.7,452.8 176.7,454.8" fill="#a98ad8" stroke="#7a3fb5" stroke-width="0.7"/>
<polygon points="190.4,455.1 192.4,453.1 194.4,455.1 192.4,457.1" fill="#a98ad8" stroke="#7a3fb5" stroke-width="0.7"/>
<polygon points="206.1,456.2 208.1,454.2 210.1,456.2 208.1,458.2" fill="#a98ad8" stroke="#7a3fb5" stroke-width="0.7"/>
<polygon points="221.8,455.1 223.8,453.1 225.8,455.1 223.8,457.1" fill="#a98ad8" stroke="#7a3fb5" stroke-width="0.7"/>
<polygon points="237.5,453.8 239.5,451.8 241.5,453.8 239.5,455.8" fill="#a98ad8" stroke="#7a3fb5" stroke-width="0.7"/>
<path d="M82.5 434.9 C85.1 434.8 93.0 433.5 98.2 434.6 C103.4 435.7 108.7 439.4 113.9 441.4 C119.1 443.4 124.4 445.1 129.6 446.6 C134.8 448.0 140.1 449.0 145.3 449.9 C150.5 450.9 155.8 451.5 161.0 452.3 C166.2 453.0 171.5 453.6 176.7 454.4 C181.9 455.1 187.2 456.0 192.4 456.7 C197.6 457.4 202.9 458.2 208.1 458.5 C213.3 458.9 218.6 458.7 223.8 458.8 C229.0 458.8 236.9 458.8 239.5 458.8" fill="none" stroke="#f01818" stroke-width="1.2"/>
<polygon points="80.5,434.9 82.5,432.9 84.5,434.9 82.5,436.9" fill="#f01818"/>
<polygon points="96.2,434.6 98.2,432.6 100.2,434.6 98.2,436.6" fill="#f01818"/>
<polygon points="111.9,441.4 113.9,439.4 115.9,441.4 113.9,443.4" fill="#f01818"/>
<polygon points="127.6,446.6 129.6,444.6 131.6,446.6 129.6,448.6" fill="#f01818"/>
<polygon points="143.3,449.9 145.3,447.9 147.3,449.9 145.3,451.9" fill="#f01818"/>
<polygon points="159.0,452.3 161.0,450.3 163.0,452.3 161.0,454.3" fill="#f01818"/>
<polygon points="174.7,454.4 176.7,452.4 178.7,454.4 176.7,456.4" fill="#f01818"/>
<polygon points="190.4,456.7 192.4,454.7 194.4,456.7 192.4,458.7" fill="#f01818"/>
<polygon points="206.1,458.5 208.1,456.5 210.1,458.5 208.1,460.5" fill="#f01818"/>
<polygon points="221.8,458.8 223.8,456.8 225.8,458.8 223.8,460.8" fill="#f01818"/>
<polygon points="237.5,458.8 239.5,456.8 241.5,458.8 239.5,460.8" fill="#f01818"/>
<path d="M82.5 400.5 C85.1 403.5 93.0 412.6 98.2 418.2 C103.4 423.8 108.7 430.2 113.9 434.1 C119.1 437.9 124.4 439.4 129.6 441.4 C134.8 443.4 140.1 444.7 145.3 446.0 C150.5 447.4 155.8 448.4 161.0 449.4 C166.2 450.5 171.5 451.3 176.7 452.3 C181.9 453.3 187.2 454.3 192.4 455.4 C197.6 456.5 202.9 457.6 208.1 458.8 C213.3 460.0 218.6 461.5 223.8 462.4 C229.0 463.4 236.9 464.2 239.5 464.5" fill="none" stroke="#111" stroke-width="0.9"/>
<circle cx="82.5" cy="400.5" r="2.0" fill="#111"/>
<circle cx="98.2" cy="418.2" r="2.0" fill="#111"/>
<circle cx="113.9" cy="434.1" r="2.0" fill="#111"/>
<circle cx="129.6" cy="441.4" r="2.0" fill="#111"/>
<circle cx="145.3" cy="446.0" r="2.0" fill="#111"/>
<circle cx="161.0" cy="449.4" r="2.0" fill="#111"/>
<circle cx="176.7" cy="452.3" r="2.0" fill="#111"/>
<circle cx="192.4" cy="455.4" r="2.0" fill="#111"/>
<circle cx="208.1" cy="458.8" r="2.0" fill="#111"/>
<circle cx="223.8" cy="462.4" r="2.0" fill="#111"/>
<circle cx="239.5" cy="464.5" r="2.0" fill="#111"/>
<line x1="116.0" y1="414.2" x2="128.0" y2="414.2" stroke="#111" stroke-width="0.9"/>
<circle cx="122.0" cy="414.2" r="2.0" fill="#111"/>
<text x="130.5" y="416.5" font-family="Liberation Serif, serif" font-size="7.8" fill="#666">σ1/fy</text>
<line x1="154.0" y1="414.2" x2="166.5" y2="414.2" stroke="#f01818" stroke-width="1.2"/>
<polygon points="158.2,414.2 160.2,412.2 162.2,414.2 160.2,416.2" fill="#f01818"/>
<text x="169.0" y="416.5" font-family="Liberation Serif, serif" font-size="7.8" fill="#666">σ2/fy</text>
<line x1="191.8" y1="414.2" x2="204.0" y2="414.2" stroke="#2fb050" stroke-width="0.9"/>
<polygon points="196.2,415.6 197.9,412.5 199.6,415.6" fill="#2fb050"/>
<text x="206.5" y="416.5" font-family="Liberation Serif, serif" font-size="7.8" fill="#666">σ3/fy</text>
<line x1="116.0" y1="425.6" x2="128.0" y2="425.6" stroke="#2f86d0" stroke-width="1.1" stroke-dasharray="4 1.5"/>
<circle cx="122.0" cy="425.6" r="1.7" fill="#fff" fill-opacity="0.6" stroke="#2f86d0" stroke-width="0.8"/>
<text x="130.5" y="427.9" font-family="Liberation Serif, serif" font-size="7.8" fill="#666">σm/fy</text>
<line x1="154.0" y1="425.6" x2="166.5" y2="425.6" stroke="#7a3fb5" stroke-width="0.9" stroke-dasharray="3 1.5 1 1.5"/>
<polygon points="158.2,425.6 160.2,423.6 162.2,425.6 160.2,427.6" fill="#a98ad8" stroke="#7a3fb5" stroke-width="0.7"/>
<text x="169.0" y="427.9" font-family="Liberation Serif, serif" font-size="7.8" fill="#666">σseq/fy</text>
<text x="149.8" y="506.6" font-family="Liberation Serif, serif" font-size="10" text-anchor="middle" fill="#111">(<tspan font-weight="bold">f</tspan>)</text>
<!-- chart g -->
<line x1="378.6" y1="465.3" x2="499.2" y2="465.3" stroke="#b8b8b8" stroke-width="0.6" stroke-dasharray="1.5 1.5"/>
<line x1="378.6" y1="453.4" x2="499.2" y2="453.4" stroke="#b8b8b8" stroke-width="0.6" stroke-dasharray="1.5 1.5"/>
<line x1="378.6" y1="441.6" x2="499.2" y2="441.6" stroke="#b8b8b8" stroke-width="0.6" stroke-dasharray="1.5 1.5"/>
<line x1="378.6" y1="429.8" x2="499.2" y2="429.8" stroke="#b8b8b8" stroke-width="0.6" stroke-dasharray="1.5 1.5"/>
<line x1="378.6" y1="418.0" x2="499.2" y2="418.0" stroke="#b8b8b8" stroke-width="0.6" stroke-dasharray="1.5 1.5"/>
<line x1="378.6" y1="406.1" x2="499.2" y2="406.1" stroke="#b8b8b8" stroke-width="0.6" stroke-dasharray="1.5 1.5"/>
<line x1="402.7" y1="394.3" x2="402.7" y2="477.1" stroke="#b8b8b8" stroke-width="0.6" stroke-dasharray="1.5 1.5"/>
<line x1="426.8" y1="394.3" x2="426.8" y2="477.1" stroke="#b8b8b8" stroke-width="0.6" stroke-dasharray="1.5 1.5"/>
<line x1="451.0" y1="394.3" x2="451.0" y2="477.1" stroke="#b8b8b8" stroke-width="0.6" stroke-dasharray="1.5 1.5"/>
<line x1="475.1" y1="394.3" x2="475.1" y2="477.1" stroke="#b8b8b8" stroke-width="0.6" stroke-dasharray="1.5 1.5"/>
<rect x="378.6" y="394.3" width="120.6" height="82.8" fill="none" stroke="#666" stroke-width="0.9"/>
<text x="374.0" y="479.5" font-family="Liberation Serif, serif" font-size="7.3" fill="#222" text-anchor="end">-0.5</text>
<text x="374.0" y="467.7" font-family="Liberation Serif, serif" font-size="7.3" fill="#222" text-anchor="end">0</text>
<text x="374.0" y="455.9" font-family="Liberation Serif, serif" font-size="7.3" fill="#222" text-anchor="end">0.5</text>
<text x="374.0" y="444.0" font-family="Liberation Serif, serif" font-size="7.3" fill="#222" text-anchor="end">1</text>
<text x="374.0" y="432.2" font-family="Liberation Serif, serif" font-size="7.3" fill="#222" text-anchor="end">1.5</text>
<text x="374.0" y="420.4" font-family="Liberation Serif, serif" font-size="7.3" fill="#222" text-anchor="end">2</text>
<text x="374.0" y="408.5" font-family="Liberation Serif, serif" font-size="7.3" fill="#222" text-anchor="end">2.5</text>
<text x="374.0" y="396.7" font-family="Liberation Serif, serif" font-size="7.3" fill="#222" text-anchor="end">3</text>
<text x="378.6" y="488.2" font-family="Liberation Serif, serif" font-size="7.3" fill="#222" text-anchor="middle">0</text>
<text x="402.7" y="488.2" font-family="Liberation Serif, serif" font-size="7.3" fill="#222" text-anchor="middle">0.2</text>
<text x="426.8" y="488.2" font-family="Liberation Serif, serif" font-size="7.3" fill="#222" text-anchor="middle">0.4</text>
<text x="451.0" y="488.2" font-family="Liberation Serif, serif" font-size="7.3" fill="#222" text-anchor="middle">0.6</text>
<text x="475.1" y="488.2" font-family="Liberation Serif, serif" font-size="7.3" fill="#222" text-anchor="middle">0.8</text>
<text x="499.2" y="488.2" font-family="Liberation Serif, serif" font-size="7.3" fill="#222" text-anchor="middle">1</text>
<text x="438.8" y="494.3" font-family="Liberation Serif, serif" font-size="6.3" font-style="italic" fill="#222" text-anchor="middle">y/w</text>
<text transform="translate(361.3 437.0) rotate(-90)" font-family="Liberation Serif, serif" font-size="6.3" font-style="italic" fill="#222" text-anchor="middle">σ2/σ1, σ3/σ1, σm/σseq, lf</text>
<path d="M378.6 463.1 C380.6 463.4 386.6 464.4 390.7 464.8 C394.7 465.2 398.7 465.2 402.7 465.3 C406.7 465.4 410.8 465.3 414.8 465.3 C418.8 465.3 422.8 465.3 426.8 465.3 C430.9 465.3 434.9 465.3 438.9 465.3 C442.9 465.3 446.9 465.3 451.0 465.3 C455.0 465.3 459.0 465.7 463.0 465.3 C467.0 464.8 471.1 462.4 475.1 462.4 C479.1 462.4 483.1 464.8 487.1 465.3 C491.2 465.7 497.2 465.3 499.2 465.3" fill="none" stroke="#2f86d0" stroke-width="0.9"/>
<rect x="377.1" y="461.6" width="3.0" height="3.0" fill="#fff" fill-opacity="0.6" stroke="#2f86d0" stroke-width="0.8"/>
<rect x="389.2" y="463.3" width="3.0" height="3.0" fill="#fff" fill-opacity="0.6" stroke="#2f86d0" stroke-width="0.8"/>
<rect x="401.2" y="463.8" width="3.0" height="3.0" fill="#fff" fill-opacity="0.6" stroke="#2f86d0" stroke-width="0.8"/>
<rect x="413.3" y="463.8" width="3.0" height="3.0" fill="#fff" fill-opacity="0.6" stroke="#2f86d0" stroke-width="0.8"/>
<rect x="425.3" y="463.8" width="3.0" height="3.0" fill="#fff" fill-opacity="0.6" stroke="#2f86d0" stroke-width="0.8"/>
<rect x="437.4" y="463.8" width="3.0" height="3.0" fill="#fff" fill-opacity="0.6" stroke="#2f86d0" stroke-width="0.8"/>
<rect x="449.5" y="463.8" width="3.0" height="3.0" fill="#fff" fill-opacity="0.6" stroke="#2f86d0" stroke-width="0.8"/>
<rect x="461.5" y="463.8" width="3.0" height="3.0" fill="#fff" fill-opacity="0.6" stroke="#2f86d0" stroke-width="0.8"/>
<rect x="473.6" y="460.9" width="3.0" height="3.0" fill="#fff" fill-opacity="0.6" stroke="#2f86d0" stroke-width="0.8"/>
<rect x="485.6" y="463.8" width="3.0" height="3.0" fill="#fff" fill-opacity="0.6" stroke="#2f86d0" stroke-width="0.8"/>
<rect x="497.7" y="463.8" width="3.0" height="3.0" fill="#fff" fill-opacity="0.6" stroke="#2f86d0" stroke-width="0.8"/>
<path d="M378.6 456.0 C380.6 455.3 386.6 452.7 390.7 451.6 C394.7 450.4 398.7 449.3 402.7 448.9 C406.7 448.6 410.8 449.4 414.8 449.7 C418.8 449.9 422.8 450.4 426.8 450.6 C430.9 450.8 434.9 451.0 438.9 451.1 C442.9 451.2 446.9 450.6 451.0 451.1 C455.0 451.5 459.0 451.9 463.0 453.7 C467.0 455.4 471.1 458.9 475.1 461.5 C479.1 464.0 483.1 468.3 487.1 469.1 C491.2 469.8 497.2 466.7 499.2 466.2" fill="none" stroke="#f01818" stroke-width="0.9"/>
<polygon points="377.3,457.1 378.6,454.7 379.9,457.1" fill="#f01818"/>
<polygon points="389.4,452.6 390.7,450.3 392.0,452.6" fill="#f01818"/>
<polygon points="401.4,450.0 402.7,447.6 404.0,450.0" fill="#f01818"/>
<polygon points="413.5,450.7 414.8,448.4 416.1,450.7" fill="#f01818"/>
<polygon points="425.5,451.6 426.8,449.3 428.1,451.6" fill="#f01818"/>
<polygon points="437.6,452.1 438.9,449.8 440.2,452.1" fill="#f01818"/>
<polygon points="449.7,452.1 451.0,449.8 452.3,452.1" fill="#f01818"/>
<polygon points="461.7,454.7 463.0,452.4 464.3,454.7" fill="#f01818"/>
<polygon points="473.8,462.5 475.1,460.2 476.4,462.5" fill="#f01818"/>
<polygon points="485.8,470.1 487.1,467.8 488.4,470.1" fill="#f01818"/>
<polygon points="497.9,467.3 499.2,464.9 500.5,467.3" fill="#f01818"/>
<path d="M378.6 451.3 C380.6 451.1 386.6 450.2 390.7 450.1 C394.7 450.0 398.7 450.5 402.7 450.6 C406.7 450.7 410.8 450.5 414.8 450.6 C418.8 450.7 422.8 451.0 426.8 451.1 C430.9 451.2 434.9 451.2 438.9 451.3 C442.9 451.4 446.9 451.2 451.0 451.6 C455.0 451.9 459.0 451.7 463.0 453.4 C467.0 455.2 471.1 459.0 475.1 462.0 C479.1 464.9 483.1 469.3 487.1 471.2 C491.2 473.0 497.2 472.8 499.2 473.1" fill="none" stroke="#2fb050" stroke-width="0.9"/>
<circle cx="378.6" cy="451.3" r="1.6" fill="#86d89a" stroke="#2fb050" stroke-width="0.8"/>
<circle cx="390.7" cy="450.1" r="1.6" fill="#86d89a" stroke="#2fb050" stroke-width="0.8"/>
<circle cx="402.7" cy="450.6" r="1.6" fill="#86d89a" stroke="#2fb050" stroke-width="0.8"/>
<circle cx="414.8" cy="450.6" r="1.6" fill="#86d89a" stroke="#2fb050" stroke-width="0.8"/>
<circle cx="426.8" cy="451.1" r="1.6" fill="#86d89a" stroke="#2fb050" stroke-width="0.8"/>
<circle cx="438.9" cy="451.3" r="1.6" fill="#86d89a" stroke="#2fb050" stroke-width="0.8"/>
<circle cx="451.0" cy="451.6" r="1.6" fill="#86d89a" stroke="#2fb050" stroke-width="0.8"/>
<circle cx="463.0" cy="453.4" r="1.6" fill="#86d89a" stroke="#2fb050" stroke-width="0.8"/>
<circle cx="475.1" cy="462.0" r="1.6" fill="#86d89a" stroke="#2fb050" stroke-width="0.8"/>
<circle cx="487.1" cy="471.2" r="1.6" fill="#86d89a" stroke="#2fb050" stroke-width="0.8"/>
<circle cx="499.2" cy="473.1" r="1.6" fill="#86d89a" stroke="#2fb050" stroke-width="0.8"/>
<path d="M378.6 401.6 L390.7 418.7 L402.7 434.8 L414.8 435.9 L426.8 439.7 L438.9 440.4 L451.0 446.8 L463.0 454.2 L475.1 457.0 L487.1 454.2 L499.2 449.7" fill="none" stroke="#111" stroke-width="0.9"/>
<rect x="377.2" y="400.3" width="2.7" height="2.7" fill="#111"/>
<rect x="389.3" y="417.3" width="2.7" height="2.7" fill="#111"/>
<rect x="401.4" y="433.4" width="2.7" height="2.7" fill="#111"/>
<rect x="413.4" y="434.6" width="2.7" height="2.7" fill="#111"/>
<rect x="425.5" y="438.4" width="2.7" height="2.7" fill="#111"/>
<rect x="437.5" y="439.1" width="2.7" height="2.7" fill="#111"/>
<rect x="449.6" y="445.5" width="2.7" height="2.7" fill="#111"/>
<rect x="461.7" y="452.8" width="2.7" height="2.7" fill="#111"/>
<rect x="473.7" y="455.6" width="2.7" height="2.7" fill="#111"/>
<rect x="485.8" y="452.8" width="2.7" height="2.7" fill="#111"/>
<rect x="497.8" y="448.3" width="2.7" height="2.7" fill="#111"/>
<line x1="404.4" y1="413.4" x2="415.3" y2="413.4" stroke="#f01818" stroke-width="0.9"/>
<polygon points="408.6,414.4 409.9,412.1 411.2,414.4" fill="#f01818"/>
<text x="418.0" y="415.5" font-family="Liberation Serif, serif" font-size="7.0" fill="#222">σ2/σ1</text>
<line x1="443.0" y1="413.4" x2="453.5" y2="413.4" stroke="#2f86d0" stroke-width="0.9"/>
<rect x="446.8" y="411.9" width="3.0" height="3.0" fill="#fff" fill-opacity="0.6" stroke="#2f86d0" stroke-width="0.8"/>
<text x="456.7" y="415.5" font-family="Liberation Serif, serif" font-size="7.0" fill="#222">σ3/σ1</text>
<line x1="404.4" y1="421.7" x2="415.3" y2="421.7" stroke="#2fb050" stroke-width="0.9"/>
<circle cx="409.9" cy="421.7" r="1.6" fill="#86d89a" stroke="#2fb050" stroke-width="0.8"/>
<text x="418.0" y="423.8" font-family="Liberation Serif, serif" font-size="7.0" fill="#222">σm/σseq</text>
<line x1="443.6" y1="421.7" x2="453.5" y2="421.7" stroke="#111" stroke-width="0.9"/>
<rect x="447.2" y="420.3" width="2.7" height="2.7" fill="#111"/>
<text x="456.7" y="423.8" font-family="Liberation Serif, serif" font-size="7.0" fill="#222">lf</text>
<text x="428.8" y="506.6" font-family="Liberation Serif, serif" font-size="10" text-anchor="middle" fill="#111">(<tspan font-weight="bold">g</tspan>)</text>
</svg></body></html>
